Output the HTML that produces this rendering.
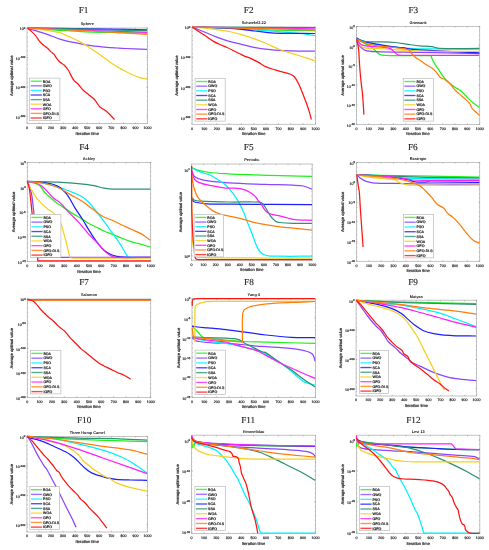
<!DOCTYPE html>
<html><head><meta charset="utf-8"><title>Convergence curves F1-F12</title>
<style>
html,body{margin:0;padding:0;background:#fff;}
body{width:489px;height:550px;overflow:hidden;}
svg{display:block;}
.t{font-family:"Liberation Serif",serif;font-size:9.2px;text-anchor:middle;fill:#1a1a1a;stroke:#1a1a1a;stroke-width:0.12;}
.s{font-family:"Liberation Sans",sans-serif;font-size:3.85px;font-weight:bold;text-anchor:middle;fill:#111;}
.k{font-family:"Liberation Sans",sans-serif;font-size:3.6px;text-anchor:middle;fill:#222;stroke:#333;stroke-width:0.2;stroke-linejoin:round;}
.e{font-size:2.8px;}
.xl{font-family:"Liberation Sans",sans-serif;font-size:4.05px;text-anchor:middle;fill:#222;stroke:#333;stroke-width:0.2;stroke-linejoin:round;}
.yl{font-family:"Liberation Sans",sans-serif;font-size:4.1px;text-anchor:middle;fill:#222;stroke:#333;stroke-width:0.22;stroke-linejoin:round;}
.yk{font-family:"Liberation Sans",sans-serif;font-size:3.6px;text-anchor:end;fill:#222;stroke:#333;stroke-width:0.2;stroke-linejoin:round;}
text{text-rendering:geometricPrecision;}
.lt{font-family:"Liberation Sans",sans-serif;font-size:3.55px;fill:#111;stroke:#222;stroke-width:0.2;stroke-linejoin:round;}
.ax{fill:none;stroke:#b4b4b4;stroke-width:0.8;}
.tk{fill:none;stroke:#8a8a8a;stroke-width:0.5;}
.ln{fill:none;stroke-width:1.25;stroke-linejoin:round;stroke-linecap:butt;}
.lg{fill:#fff;stroke:#b0b0b0;stroke-width:0.6;}
.ll{fill:none;stroke-width:1.35;opacity:0.8;}
</style></head>
<body>
<svg width="489" height="550" viewBox="0 0 489 550">
<rect width="489" height="550" fill="#fff"/>
<g><text x="83.5" y="12.8" class="t">F1</text><text x="87.25" y="25.4" class="s">Sphere</text><rect x="27" y="28" width="120.5" height="95.5" class="ax"/><text x="27" y="128.8" class="k">0</text><text x="39.05" y="128.8" class="k">100</text><text x="51.1" y="128.8" class="k">200</text><text x="63.15" y="128.8" class="k">300</text><text x="75.2" y="128.8" class="k">400</text><text x="87.25" y="128.8" class="k">500</text><text x="99.3" y="128.8" class="k">600</text><text x="111.35" y="128.8" class="k">700</text><text x="123.4" y="128.8" class="k">800</text><text x="135.45" y="128.8" class="k">900</text><text x="147.5" y="128.8" class="k">1000</text><text x="25.4" y="30.45" class="yk">10<tspan dy="-1.7" class="e">0</tspan></text><text x="25.4" y="59.93" class="yk">10<tspan dy="-1.7" class="e">-100</tspan></text><text x="25.4" y="89.4" class="yk">10<tspan dy="-1.7" class="e">-200</tspan></text><text x="25.4" y="118.88" class="yk">10<tspan dy="-1.7" class="e">-300</tspan></text><path d="M27 123.5v-1.2M27 28v1.2M39.05 123.5v-1.2M39.05 28v1.2M51.1 123.5v-1.2M51.1 28v1.2M63.15 123.5v-1.2M63.15 28v1.2M75.2 123.5v-1.2M75.2 28v1.2M87.25 123.5v-1.2M87.25 28v1.2M99.3 123.5v-1.2M99.3 28v1.2M111.35 123.5v-1.2M111.35 28v1.2M123.4 123.5v-1.2M123.4 28v1.2M135.45 123.5v-1.2M135.45 28v1.2M147.5 123.5v-1.2M147.5 28v1.2M27 28h1.2M147.5 28h-1.2M27 57.48h1.2M147.5 57.48h-1.2M27 86.95h1.2M147.5 86.95h-1.2M27 116.43h1.2M147.5 116.43h-1.2M27 32.55h0.8M147.5 32.55h-0.8M27 37.1h0.8M147.5 37.1h-0.8M27 41.64h0.8M147.5 41.64h-0.8M27 46.19h0.8M147.5 46.19h-0.8M27 50.74h0.8M147.5 50.74h-0.8M27 55.29h0.8M147.5 55.29h-0.8M27 59.83h0.8M147.5 59.83h-0.8M27 64.38h0.8M147.5 64.38h-0.8M27 68.93h0.8M147.5 68.93h-0.8M27 73.48h0.8M147.5 73.48h-0.8M27 78.02h0.8M147.5 78.02h-0.8M27 82.57h0.8M147.5 82.57h-0.8M27 87.12h0.8M147.5 87.12h-0.8M27 91.67h0.8M147.5 91.67h-0.8M27 96.21h0.8M147.5 96.21h-0.8M27 100.76h0.8M147.5 100.76h-0.8M27 105.31h0.8M147.5 105.31h-0.8M27 109.86h0.8M147.5 109.86h-0.8M27 114.4h0.8M147.5 114.4h-0.8M27 118.95h0.8M147.5 118.95h-0.8" class="tk"/><text x="87.25" y="134.5" class="xl">Iteration time</text><text transform="translate(12.8 75.75) rotate(-90)" class="yl">Average optimal value</text><path d="M27.5,28C32.8,28.5 38.09,29.14 43.4,29.5C51.29,30.04 59.2,30.28 67.1,30.7C73.5,31.04 79.89,31.58 86.3,31.8C99.19,32.25 112.1,32.4 125,32.7C132.33,32.87 139.67,33.03 147,33.2" stroke="#1ef01e" class="ln"/><path d="M27.5,28C28.17,28.33 28.8,28.75 29.5,29C31.37,29.65 33.3,30.14 35.2,30.7C37.93,31.51 40.69,32.22 43.4,33.1C46.16,33.99 48.88,35 51.6,36C54.41,37.03 57.15,38.29 60,39.2C62.68,40.06 65.45,40.68 68.2,41.3C70.92,41.91 73.67,42.35 76.4,42.9C79.14,43.45 81.85,44.11 84.6,44.6C87.32,45.08 90.06,45.44 92.8,45.8C95.19,46.11 97.6,46.34 100,46.6C102.27,46.84 104.53,47.11 106.8,47.3C110.2,47.58 113.6,47.78 117,48C119.67,48.18 122.33,48.38 125,48.5C132.33,48.82 139.67,49.03 147,49.3" stroke="#8c46ff" class="ln"/><path d="M27.5,28C48.33,28.6 69.16,29.28 90,29.8C109,30.28 128,30.6 147,31" stroke="#00f0ff" class="ln"/><path d="M27.5,28C48.33,28.27 69.17,28.49 90,28.8C109,29.09 128,29.47 147,29.8" stroke="#1e1eff" class="ln"/><path d="M27.5,28C48.33,28.4 69.17,28.76 90,29.2C109,29.6 128,30.07 147,30.5" stroke="#2a9272" class="ln"/><path d="M27.5,28C32.8,28.63 38.11,29.22 43.4,29.9C46.14,30.25 48.88,30.64 51.6,31.1C54.34,31.57 57.13,31.95 59.8,32.7C61.5,33.18 63.06,34.11 64.7,34.8C67.23,35.87 69.81,36.85 72.3,38C75.07,39.28 77.82,40.63 80.5,42.1C83.29,43.63 86.03,45.26 88.7,47C92.53,49.5 96.27,52.15 100,54.8C103.67,57.41 107.19,60.25 110.9,62.8C113.55,64.62 116.32,66.28 119.1,67.9C121.02,69.02 123.03,69.98 125,71C127.46,72.28 129.87,73.69 132.4,74.8C134.87,75.89 137.42,76.82 140,77.6C142.29,78.29 144.67,78.67 147,79.2" stroke="#f5cf1e" class="ln"/><path d="M27.5,28C48.33,28.83 69.16,29.75 90,30.5C109,31.18 128,31.7 147,32.3" stroke="#ff1eff" class="ln"/><path d="M27.5,28C48.33,29 69.17,29.9 90,31C109.01,32 128,33.2 147,34.3" stroke="#ff7d0a" class="ln"/><path d="M27.8,28.2C28.9,29.17 30.04,30.09 31.1,31.1C32.5,32.43 33.96,33.72 35.2,35.2C36.96,37.29 38.35,39.7 40.1,41.8C41.08,42.97 42.25,43.99 43.4,45C44.72,46.16 46.2,47.13 47.5,48.3C48.93,49.59 50.17,51.1 51.6,52.4C52.34,53.07 53.36,53.45 54,54.2C54.99,55.35 55.58,56.86 56.5,58.1C57.51,59.46 58.55,60.86 59.8,62C61.08,63.16 62.85,63.81 64.1,65C65.65,66.47 67.01,68.22 68.2,70C69.21,71.52 69.81,73.3 70.7,74.9C71.78,76.83 72.73,78.9 74.1,80.6C75.23,82 76.95,82.88 78.2,84.2C80.02,86.12 81.43,88.43 83.3,90.3C84.83,91.83 86.71,93.02 88.4,94.4C90.45,96.08 92.72,97.56 94.5,99.5C96.49,101.66 97.64,104.64 99.7,106.7C101.41,108.41 103.96,109.2 105.8,110.8C108.89,113.47 111.6,116.6 114.5,119.5" stroke="#ff1414" class="ln"/><rect x="29.6" y="78.1" width="30.3" height="42.2" class="lg"/><path d="M30.7 81.2h11.2" stroke="#1ef01e" class="ll"/><text x="42.8" y="82.5" class="lt">BOA</text><path d="M30.7 85.8h11.2" stroke="#8c46ff" class="ll"/><text x="42.8" y="87.1" class="lt">GWO</text><path d="M30.7 90.4h11.2" stroke="#00f0ff" class="ll"/><text x="42.8" y="91.7" class="lt">PSO</text><path d="M30.7 95h11.2" stroke="#1e1eff" class="ll"/><text x="42.8" y="96.3" class="lt">SCA</text><path d="M30.7 99.6h11.2" stroke="#2a9272" class="ll"/><text x="42.8" y="100.9" class="lt">SSA</text><path d="M30.7 104.2h11.2" stroke="#f5cf1e" class="ll"/><text x="42.8" y="105.5" class="lt">WOA</text><path d="M30.7 108.8h11.2" stroke="#ff1eff" class="ll"/><text x="42.8" y="110.1" class="lt">GEO</text><path d="M30.7 113.4h11.2" stroke="#ff7d0a" class="ll"/><text x="42.8" y="114.7" class="lt">GEO-DLS</text><path d="M30.7 118h11.2" stroke="#ff1414" class="ll"/><text x="42.8" y="119.3" class="lt">IGEO</text></g>
<g><text x="248.7" y="12.9" class="t">F2</text><text x="253.75" y="24.4" class="s">Schwefel2.22</text><rect x="192" y="27" width="123.5" height="97.3" class="ax"/><text x="192" y="129.6" class="k">0</text><text x="204.35" y="129.6" class="k">100</text><text x="216.7" y="129.6" class="k">200</text><text x="229.05" y="129.6" class="k">300</text><text x="241.4" y="129.6" class="k">400</text><text x="253.75" y="129.6" class="k">500</text><text x="266.1" y="129.6" class="k">600</text><text x="278.45" y="129.6" class="k">700</text><text x="290.8" y="129.6" class="k">800</text><text x="303.15" y="129.6" class="k">900</text><text x="315.5" y="129.6" class="k">1000</text><text x="190.4" y="29.45" class="yk">10<tspan dy="-1.7" class="e">0</tspan></text><text x="190.4" y="59.48" class="yk">10<tspan dy="-1.7" class="e">-100</tspan></text><text x="190.4" y="89.51" class="yk">10<tspan dy="-1.7" class="e">-200</tspan></text><text x="190.4" y="119.54" class="yk">10<tspan dy="-1.7" class="e">-300</tspan></text><path d="M192 124.3v-1.2M192 27v1.2M204.35 124.3v-1.2M204.35 27v1.2M216.7 124.3v-1.2M216.7 27v1.2M229.05 124.3v-1.2M229.05 27v1.2M241.4 124.3v-1.2M241.4 27v1.2M253.75 124.3v-1.2M253.75 27v1.2M266.1 124.3v-1.2M266.1 27v1.2M278.45 124.3v-1.2M278.45 27v1.2M290.8 124.3v-1.2M290.8 27v1.2M303.15 124.3v-1.2M303.15 27v1.2M315.5 124.3v-1.2M315.5 27v1.2M192 27h1.2M315.5 27h-1.2M192 57.03h1.2M315.5 57.03h-1.2M192 87.06h1.2M315.5 87.06h-1.2M192 117.09h1.2M315.5 117.09h-1.2M192 31.42h0.8M315.5 31.42h-0.8M192 35.85h0.8M315.5 35.85h-0.8M192 40.27h0.8M315.5 40.27h-0.8M192 44.69h0.8M315.5 44.69h-0.8M192 49.11h0.8M315.5 49.11h-0.8M192 53.54h0.8M315.5 53.54h-0.8M192 57.96h0.8M315.5 57.96h-0.8M192 62.38h0.8M315.5 62.38h-0.8M192 66.8h0.8M315.5 66.8h-0.8M192 71.23h0.8M315.5 71.23h-0.8M192 75.65h0.8M315.5 75.65h-0.8M192 80.07h0.8M315.5 80.07h-0.8M192 84.5h0.8M315.5 84.5h-0.8M192 88.92h0.8M315.5 88.92h-0.8M192 93.34h0.8M315.5 93.34h-0.8M192 97.76h0.8M315.5 97.76h-0.8M192 102.19h0.8M315.5 102.19h-0.8M192 106.61h0.8M315.5 106.61h-0.8M192 111.03h0.8M315.5 111.03h-0.8M192 115.45h0.8M315.5 115.45h-0.8M192 119.88h0.8M315.5 119.88h-0.8" class="tk"/><text x="253.75" y="135.3" class="xl">Iteration time</text><text transform="translate(177.8 75.65) rotate(-90)" class="yl">Average optimal value</text><path d="M192,27C208,27.53 224,28.01 240,28.6C252,29.04 264,29.78 276,30.1C289,30.45 302,30.43 315,30.6" stroke="#1ef01e" class="ln"/><path d="M192.2,27.2C195.83,28.63 199.47,30.05 203.1,31.5C207.47,33.25 211.79,35.14 216.2,36.8C220.53,38.44 224.87,40.08 229.3,41.4C233.6,42.68 238.03,43.56 242.4,44.6C246.26,45.52 250.1,46.57 254,47.3C258.63,48.17 263.31,48.88 268,49.4C273.15,49.98 278.33,50.32 283.5,50.6C288.69,50.88 293.9,51.02 299.1,51.1C304.4,51.18 309.7,51.1 315,51.1" stroke="#8c46ff" class="ln"/><path d="M192,27C204.67,27.43 217.34,27.74 230,28.3C238.34,28.67 246.67,29.24 255,29.8C262,30.27 269,30.82 276,31.4C284,32.06 292.02,32.66 300,33.5C305.02,34.03 310,34.83 315,35.5" stroke="#00f0ff" class="ln"/><path d="M192,27C204.67,27.43 217.34,27.72 230,28.3C234.01,28.48 238.01,28.87 242,29.3C246.34,29.77 250.66,30.45 255,31C259.33,31.55 263.65,32.2 268,32.6C271.99,32.97 275.99,33.22 280,33.3C291.66,33.52 303.33,33.43 315,33.5" stroke="#1e1eff" class="ln"/><path d="M192,27 315,27.5" stroke="#2a9272" class="ln"/><path d="M192.2,27.2C195.83,27.43 199.48,27.54 203.1,27.9C207.48,28.34 211.84,29 216.2,29.6C220.57,30.2 224.98,30.64 229.3,31.5C233.71,32.38 238.08,33.54 242.4,34.8C246.31,35.94 250.17,37.29 254,38.7C258.04,40.19 262.03,41.84 266,43.5C271.03,45.6 275.89,48.12 281,50C286.76,52.12 292.74,53.64 298.6,55.5C304.08,57.24 309.53,59.03 315,60.8" stroke="#f5cf1e" class="ln"/><path d="M192,27C211.33,27.33 230.67,27.72 250,28C271.67,28.32 293.33,28.53 315,28.8" stroke="#ff1eff" class="ln"/><path d="M192,27C211.33,27.47 230.67,27.96 250,28.4C271.67,28.89 293.33,29.33 315,29.8" stroke="#ff7d0a" class="ln"/><path d="M192.2,27.2C194.1,28.43 196.01,29.65 197.9,30.9C200.51,32.62 203.1,34.36 205.7,36.1C208.34,37.86 210.89,39.77 213.6,41.4C215.26,42.4 217.04,43.2 218.8,44C221.37,45.17 224.03,46.12 226.6,47.3C229.27,48.52 231.87,49.89 234.5,51.2C236.24,52.06 237.96,52.94 239.7,53.8C241.46,54.67 243.19,55.64 245,56.4C246.62,57.08 248.39,57.4 250,58.1C252.76,59.3 255.46,60.66 258.1,62.1C260.86,63.6 263.37,65.59 266.2,66.9C268.77,68.09 271.58,68.76 274.3,69.6C277.41,70.56 280.57,71.39 283.7,72.3C285.97,72.96 288.36,73.37 290.5,74.3C291.96,74.93 293.47,75.81 294.5,77C296.17,78.94 297.43,81.36 298.6,83.7C300.13,86.76 301.33,90.01 302.6,93.2C304.03,96.78 305.4,100.38 306.7,104C307.66,106.68 308.57,109.38 309.4,112.1C310.14,114.54 310.73,117.03 311.4,119.5" stroke="#ff1414" class="ln"/><rect x="195.1" y="78.4" width="30.1" height="42.7" class="lg"/><path d="M196.2 81.5h11.2" stroke="#1ef01e" class="ll"/><text x="208.3" y="82.8" class="lt">BOA</text><path d="M196.2 86.16h11.2" stroke="#8c46ff" class="ll"/><text x="208.3" y="87.46" class="lt">GWO</text><path d="M196.2 90.83h11.2" stroke="#00f0ff" class="ll"/><text x="208.3" y="92.12" class="lt">PSO</text><path d="M196.2 95.49h11.2" stroke="#1e1eff" class="ll"/><text x="208.3" y="96.79" class="lt">SCA</text><path d="M196.2 100.15h11.2" stroke="#2a9272" class="ll"/><text x="208.3" y="101.45" class="lt">SSA</text><path d="M196.2 104.81h11.2" stroke="#f5cf1e" class="ll"/><text x="208.3" y="106.11" class="lt">WOA</text><path d="M196.2 109.47h11.2" stroke="#ff1eff" class="ll"/><text x="208.3" y="110.77" class="lt">GEO</text><path d="M196.2 114.14h11.2" stroke="#ff7d0a" class="ll"/><text x="208.3" y="115.44" class="lt">GEO-DLS</text><path d="M196.2 118.8h11.2" stroke="#ff1414" class="ll"/><text x="208.3" y="120.1" class="lt">IGEO</text></g>
<g><text x="413.3" y="13" class="t">F3</text><text x="418.05" y="23.9" class="s">Griewank</text><rect x="356.4" y="26.5" width="123.3" height="97.9" class="ax"/><text x="356.4" y="129.7" class="k">0</text><text x="368.73" y="129.7" class="k">100</text><text x="381.06" y="129.7" class="k">200</text><text x="393.39" y="129.7" class="k">300</text><text x="405.72" y="129.7" class="k">400</text><text x="418.05" y="129.7" class="k">500</text><text x="430.38" y="129.7" class="k">600</text><text x="442.71" y="129.7" class="k">700</text><text x="455.04" y="129.7" class="k">800</text><text x="467.37" y="129.7" class="k">900</text><text x="479.7" y="129.7" class="k">1000</text><text x="354.8" y="28.95" class="yk">10<tspan dy="-1.7" class="e">5</tspan></text><text x="354.8" y="48.53" class="yk">10<tspan dy="-1.7" class="e">0</tspan></text><text x="354.8" y="68.11" class="yk">10<tspan dy="-1.7" class="e">-5</tspan></text><text x="354.8" y="87.69" class="yk">10<tspan dy="-1.7" class="e">-10</tspan></text><text x="354.8" y="107.27" class="yk">10<tspan dy="-1.7" class="e">-15</tspan></text><text x="354.8" y="126.85" class="yk">10<tspan dy="-1.7" class="e">-20</tspan></text><path d="M356.4 124.4v-1.2M356.4 26.5v1.2M368.73 124.4v-1.2M368.73 26.5v1.2M381.06 124.4v-1.2M381.06 26.5v1.2M393.39 124.4v-1.2M393.39 26.5v1.2M405.72 124.4v-1.2M405.72 26.5v1.2M418.05 124.4v-1.2M418.05 26.5v1.2M430.38 124.4v-1.2M430.38 26.5v1.2M442.71 124.4v-1.2M442.71 26.5v1.2M455.04 124.4v-1.2M455.04 26.5v1.2M467.37 124.4v-1.2M467.37 26.5v1.2M479.7 124.4v-1.2M479.7 26.5v1.2M356.4 26.5h1.2M479.7 26.5h-1.2M356.4 46.08h1.2M479.7 46.08h-1.2M356.4 65.66h1.2M479.7 65.66h-1.2M356.4 85.24h1.2M479.7 85.24h-1.2M356.4 104.82h1.2M479.7 104.82h-1.2M356.4 124.4h1.2M479.7 124.4h-1.2M356.4 30.95h0.8M479.7 30.95h-0.8M356.4 35.4h0.8M479.7 35.4h-0.8M356.4 39.85h0.8M479.7 39.85h-0.8M356.4 44.3h0.8M479.7 44.3h-0.8M356.4 48.75h0.8M479.7 48.75h-0.8M356.4 53.2h0.8M479.7 53.2h-0.8M356.4 57.65h0.8M479.7 57.65h-0.8M356.4 62.1h0.8M479.7 62.1h-0.8M356.4 66.55h0.8M479.7 66.55h-0.8M356.4 71h0.8M479.7 71h-0.8M356.4 75.45h0.8M479.7 75.45h-0.8M356.4 79.9h0.8M479.7 79.9h-0.8M356.4 84.35h0.8M479.7 84.35h-0.8M356.4 88.8h0.8M479.7 88.8h-0.8M356.4 93.25h0.8M479.7 93.25h-0.8M356.4 97.7h0.8M479.7 97.7h-0.8M356.4 102.15h0.8M479.7 102.15h-0.8M356.4 106.6h0.8M479.7 106.6h-0.8M356.4 111.05h0.8M479.7 111.05h-0.8M356.4 115.5h0.8M479.7 115.5h-0.8M356.4 119.95h0.8M479.7 119.95h-0.8" class="tk"/><text x="418.05" y="135.4" class="xl">Iteration time</text><text transform="translate(344 75.45) rotate(-90)" class="yl">Average optimal value</text><path d="M356.6,39.2C358.4,40.13 360.2,41.06 362,42C363.5,42.79 365,43.61 366.5,44.4C368.23,45.31 370.14,45.97 371.7,47.1C373.17,48.17 374.2,49.81 375.6,51C377.27,52.41 378.84,54.42 380.9,54.9C385.41,55.95 390.5,55.53 395.3,55.6C407.2,55.77 419.1,55.6 431,55.6C431.57,57.13 432,58.73 432.7,60.2C433.43,61.73 434.39,63.16 435.3,64.6C436.53,66.56 437.83,68.47 439.1,70.4C440.36,72.31 441.5,74.3 442.9,76.1C444.46,78.1 446.15,80.06 448,81.8C449.98,83.66 452.17,85.34 454.4,86.9C456.4,88.3 458.75,89.24 460.7,90.7C462.12,91.77 463.23,93.23 464.5,94.5C466.2,96.2 467.85,97.95 469.6,99.6C471.25,101.15 472.93,102.69 474.7,104.1C476.16,105.26 477.77,106.23 479.3,107.3" stroke="#1ef01e" class="ln"/><path d="M356.6,41.2C357.7,42.93 358.51,44.93 359.9,46.4C361.38,47.97 363.18,49.63 365.2,50.3C368.41,51.36 372.11,51.47 375.6,51.6C390.38,52.14 405.2,52.01 420,52.3C439.77,52.68 459.53,53.17 479.3,53.6" stroke="#8c46ff" class="ln"/><path d="M356.6,39C362.93,40.83 369.15,43.24 375.6,44.5C383.62,46.07 391.85,46.71 400,47.5C406.65,48.14 413.33,48.56 420,48.8C427.39,49.06 434.8,48.98 442.2,49C454.57,49.04 466.93,49 479.3,49" stroke="#00f0ff" class="ln"/><path d="M356.6,37.9C358.57,39 360.37,40.54 362.5,41.2C366.7,42.51 371.22,42.98 375.6,43.8C379.96,44.61 384.32,45.45 388.7,46.1C393.05,46.75 397.44,47.12 401.8,47.7C406.54,48.32 411.25,49.25 416,49.7C420.31,50.11 424.67,50.08 429,50.3C445.77,51.15 462.53,52.03 479.3,52.9" stroke="#1e1eff" class="ln"/><path d="M356.6,38.5C359.03,39.47 361.36,40.96 363.9,41.4C367.69,42.06 371.7,41.66 375.6,41.8C382.17,42.03 388.76,41.98 395.3,42.5C399.69,42.85 404.03,43.8 408.4,44.4C412.26,44.93 416.12,45.52 420,45.9C423.89,46.28 427.83,46.21 431.7,46.7C434.37,47.04 436.92,48.3 439.6,48.4C452.78,48.87 466.07,48.4 479.3,48.4" stroke="#2a9272" class="ln"/><path d="M356.6,40C358.57,42.37 359.89,45.95 362.5,47.1C366.22,48.75 371.23,48.05 375.6,48.4C382.16,48.92 388.73,49.32 395.3,49.7C403.53,50.18 411.76,50.83 420,51C439.76,51.4 459.53,51.27 479.3,51.4" stroke="#f5cf1e" class="ln"/><path d="M356.6,39.9C358.57,41.63 360.07,44.42 362.5,45.1C368.61,46.82 375.65,46.31 382.2,47.1C384.82,47.41 387.61,47.49 390,48.4C391.55,48.99 392.68,50.52 394,51.6C395.31,52.68 396.45,54.13 397.9,54.9C398.79,55.37 399.96,55.29 401,55.3C427.09,55.43 453.2,55.3 479.3,55.3" stroke="#ff1eff" class="ln"/><path d="M356.6,39.2C360.77,40.93 364.79,43.19 369.1,44.4C373.32,45.59 377.82,45.85 382.2,46.4C386.55,46.95 390.95,47.15 395.3,47.7C399.68,48.25 404.51,48.19 408.4,49.7C410.17,50.39 410.93,52.84 412.3,54.3C413.53,55.6 414.79,56.92 416.2,58C417.35,58.88 418.79,59.38 420,60.2C421.76,61.38 423.33,62.83 425.1,64C427.17,65.37 429.5,66.35 431.5,67.8C433.3,69.11 434.98,70.66 436.5,72.3C437.95,73.86 438.81,76.05 440.4,77.4C441.78,78.58 443.88,78.85 445.4,79.9C447.25,81.18 448.95,82.76 450.5,84.4C451.95,85.93 452.96,87.86 454.4,89.4C455.93,91.03 457.72,92.42 459.4,93.9C461.08,95.38 462.86,96.77 464.5,98.3C466.26,99.94 468.17,101.5 469.6,103.4C470.74,104.9 471.1,106.97 472.2,108.5C473.23,109.94 474.71,111.06 476,112.3C477.07,113.33 478.2,114.3 479.3,115.3" stroke="#ff7d0a" class="ln"/><path d="M356.6,39.2C357.27,42.47 358.21,45.7 358.6,49C359.18,53.96 359.14,59 359.5,64C359.87,69.17 360.29,74.34 360.8,79.5C361.32,84.71 362.14,89.89 362.6,95.1C363.17,101.59 363.47,108.1 363.9,114.6" stroke="#ff1414" class="ln"/><rect x="403.2" y="78.4" width="30.2" height="42.7" class="lg"/><path d="M404.3 81.5h11.2" stroke="#1ef01e" class="ll"/><text x="416.4" y="82.8" class="lt">BOA</text><path d="M404.3 86.16h11.2" stroke="#8c46ff" class="ll"/><text x="416.4" y="87.46" class="lt">GWO</text><path d="M404.3 90.83h11.2" stroke="#00f0ff" class="ll"/><text x="416.4" y="92.12" class="lt">PSO</text><path d="M404.3 95.49h11.2" stroke="#1e1eff" class="ll"/><text x="416.4" y="96.79" class="lt">SCA</text><path d="M404.3 100.15h11.2" stroke="#2a9272" class="ll"/><text x="416.4" y="101.45" class="lt">SSA</text><path d="M404.3 104.81h11.2" stroke="#f5cf1e" class="ll"/><text x="416.4" y="106.11" class="lt">WOA</text><path d="M404.3 109.47h11.2" stroke="#ff1eff" class="ll"/><text x="416.4" y="110.77" class="lt">GEO</text><path d="M404.3 114.14h11.2" stroke="#ff7d0a" class="ll"/><text x="416.4" y="115.44" class="lt">GEO-DLS</text><path d="M404.3 118.8h11.2" stroke="#ff1414" class="ll"/><text x="416.4" y="120.1" class="lt">IGEO</text></g>
<g><text x="84" y="150.1" class="t">F4</text><text x="89" y="159.9" class="s">Ackley</text><rect x="27.3" y="162.5" width="123.4" height="99" class="ax"/><text x="27.3" y="266.8" class="k">0</text><text x="39.64" y="266.8" class="k">100</text><text x="51.98" y="266.8" class="k">200</text><text x="64.32" y="266.8" class="k">300</text><text x="76.66" y="266.8" class="k">400</text><text x="89" y="266.8" class="k">500</text><text x="101.34" y="266.8" class="k">600</text><text x="113.68" y="266.8" class="k">700</text><text x="126.02" y="266.8" class="k">800</text><text x="138.36" y="266.8" class="k">900</text><text x="150.7" y="266.8" class="k">1000</text><text x="25.7" y="164.95" class="yk">10<tspan dy="-1.7" class="e">5</tspan></text><text x="25.7" y="189.7" class="yk">10<tspan dy="-1.7" class="e">0</tspan></text><text x="25.7" y="214.45" class="yk">10<tspan dy="-1.7" class="e">-5</tspan></text><text x="25.7" y="239.2" class="yk">10<tspan dy="-1.7" class="e">-10</tspan></text><text x="25.7" y="263.95" class="yk">10<tspan dy="-1.7" class="e">-15</tspan></text><path d="M27.3 261.5v-1.2M27.3 162.5v1.2M39.64 261.5v-1.2M39.64 162.5v1.2M51.98 261.5v-1.2M51.98 162.5v1.2M64.32 261.5v-1.2M64.32 162.5v1.2M76.66 261.5v-1.2M76.66 162.5v1.2M89 261.5v-1.2M89 162.5v1.2M101.34 261.5v-1.2M101.34 162.5v1.2M113.68 261.5v-1.2M113.68 162.5v1.2M126.02 261.5v-1.2M126.02 162.5v1.2M138.36 261.5v-1.2M138.36 162.5v1.2M150.7 261.5v-1.2M150.7 162.5v1.2M27.3 162.5h1.2M150.7 162.5h-1.2M27.3 187.25h1.2M150.7 187.25h-1.2M27.3 212h1.2M150.7 212h-1.2M27.3 236.75h1.2M150.7 236.75h-1.2M27.3 261.5h1.2M150.7 261.5h-1.2M27.3 167h0.8M150.7 167h-0.8M27.3 171.5h0.8M150.7 171.5h-0.8M27.3 176h0.8M150.7 176h-0.8M27.3 180.5h0.8M150.7 180.5h-0.8M27.3 185h0.8M150.7 185h-0.8M27.3 189.5h0.8M150.7 189.5h-0.8M27.3 194h0.8M150.7 194h-0.8M27.3 198.5h0.8M150.7 198.5h-0.8M27.3 203h0.8M150.7 203h-0.8M27.3 207.5h0.8M150.7 207.5h-0.8M27.3 212h0.8M150.7 212h-0.8M27.3 216.5h0.8M150.7 216.5h-0.8M27.3 221h0.8M150.7 221h-0.8M27.3 225.5h0.8M150.7 225.5h-0.8M27.3 230h0.8M150.7 230h-0.8M27.3 234.5h0.8M150.7 234.5h-0.8M27.3 239h0.8M150.7 239h-0.8M27.3 243.5h0.8M150.7 243.5h-0.8M27.3 248h0.8M150.7 248h-0.8M27.3 252.5h0.8M150.7 252.5h-0.8M27.3 257h0.8M150.7 257h-0.8" class="tk"/><text x="89" y="272.5" class="xl">Iteration time</text><text transform="translate(14.9 212) rotate(-90)" class="yl">Average optimal value</text><path d="M27.3,181.4C29.53,181.93 31.86,182.22 34,183C36.22,183.82 38.63,184.72 40.4,186.2C41.83,187.39 42.37,189.53 43.6,191C45.04,192.73 46.74,194.26 48.4,195.8C50.48,197.73 52.57,199.66 54.8,201.4C57.37,203.4 60.11,205.17 62.8,207C65.98,209.17 69.14,211.36 72.4,213.4C75.54,215.36 78.85,217.06 82,219C84.05,220.26 85.92,221.81 88,223C90.58,224.48 93.33,225.67 96,227C98.67,228.33 101.28,229.78 104,231C106.62,232.18 109.33,233.13 112,234.2C114.67,235.27 117.33,236.33 120,237.4C122.67,238.47 125.29,239.65 128,240.6C130.63,241.52 133.32,242.24 136,243C140.79,244.37 145.6,245.67 150.4,247" stroke="#1ef01e" class="ln"/><path d="M27.3,181.4C27.93,183 28.65,184.57 29.2,186.2C30.09,188.84 31.08,191.48 31.6,194.2C32.41,198.41 32.69,202.73 33.2,207C33.49,209.4 33.83,211.79 34,214.2C34.6,222.79 34.9,231.41 35.5,240C35.9,245.81 35.72,252.45 37,257.4C37.22,258.25 39,257.4 40,257.4C76.8,257.4 113.6,257.4 150.4,257.4" stroke="#8c46ff" class="ln"/><path d="M27.3,181.4C32.2,181.93 37.16,182.12 42,183C47.4,183.98 52.73,185.45 58,187C61.8,188.12 65.51,189.55 69.2,191C72.98,192.48 76.88,193.83 80.4,195.8C83.15,197.33 85.75,199.3 88,201.5C90.95,204.37 93.41,207.77 96,211C98.74,214.41 101.4,217.89 104,221.4C106.73,225.09 109.33,228.87 112,232.6C114.67,236.33 117.46,239.99 120,243.8C121.72,246.39 123.18,249.15 124.8,251.8C125.85,253.51 126.63,255.66 128,256.9C128.69,257.53 129.99,257.38 131,257.4C137.45,257.54 143.93,257.4 150.4,257.4" stroke="#00f0ff" class="ln"/><path d="M27.3,181.4C32.2,181.67 37.13,181.69 42,182.2C45.36,182.55 48.72,183.21 52,184C53.72,184.41 55.38,185.09 57,185.8C58.05,186.26 59.15,186.74 60,187.5C62.65,189.84 65.42,192.25 67.5,195.1C70.45,199.15 72.44,203.91 75.1,208.2C77.48,212.04 80.18,215.68 82.6,219.5C84.55,222.58 86.3,225.79 88.2,228.9C89.74,231.42 91.26,233.95 92.9,236.4C94.4,238.65 95.91,240.9 97.6,243C99.61,245.5 101.61,248.11 104,250.2C105.87,251.84 108.15,253.13 110.4,254.2C112.41,255.16 114.61,255.86 116.8,256.3C119.41,256.83 122.12,257.01 124.8,257.1C133.32,257.38 141.87,257.3 150.4,257.4" stroke="#1e1eff" class="ln"/><path d="M27.3,181.4C37.53,181.67 47.78,181.66 58,182.2C68.01,182.73 78.03,183.55 88,184.6C90.7,184.88 93.34,185.62 96,186.2C98.68,186.79 101.3,187.66 104,188.1C107.17,188.62 110.39,189.03 113.6,189.1C125.85,189.36 138.13,189.1 150.4,189.1" stroke="#2a9272" class="ln"/><path d="M27.3,181.4C28.2,183.53 28.93,185.76 30,187.8C30.89,189.49 32.17,190.98 33.2,192.6C34.03,193.91 34.71,195.33 35.6,196.6C36.58,198 37.65,199.34 38.8,200.6C40.32,202.27 41.93,203.87 43.6,205.4C45.13,206.81 46.74,208.15 48.4,209.4C49.94,210.55 51.8,211.31 53.2,212.6C55,214.25 56.65,216.17 58,218.2C59.31,220.17 60.37,222.38 61.2,224.6C62.37,227.71 63.1,230.99 64,234.2C64.9,237.39 65.8,240.58 66.6,243.8C67.4,246.98 68.02,250.21 68.8,253.4C69.08,254.55 69.26,255.81 69.8,256.8C70.09,257.34 70.67,257.96 71.3,258C77.41,258.39 83.77,258.09 90,258.1C110.13,258.13 130.27,258.1 150.4,258.1" stroke="#f5cf1e" class="ln"/><path d="M27.3,181.4C30.07,181.93 32.95,182.13 35.6,183C37.85,183.73 40.12,184.79 42,186.2C44.38,187.99 46.29,190.44 48.4,192.6C50.29,194.54 51.96,196.74 54,198.5C55.82,200.07 58.24,200.96 60,202.6C63.37,205.76 66.19,209.54 69.4,212.9C72.46,216.1 75.82,219.02 78.8,222.3C82.09,225.92 84.91,229.98 88.2,233.6C91.18,236.88 94.56,239.78 97.6,243C99.59,245.11 101.31,247.49 103.3,249.6C104.51,250.89 105.81,252.11 107.2,253.2C108.71,254.38 110.29,255.58 112,256.4C113.22,256.98 114.63,257.36 116,257.4C127.43,257.7 138.93,257.4 150.4,257.4" stroke="#ff1eff" class="ln"/><path d="M27.3,181.4C32.2,181.93 37.15,182.19 42,183C45.38,183.56 48.72,184.5 52,185.5C54.72,186.33 57.46,187.24 60,188.5C63.89,190.44 67.53,192.91 71.3,195.1C75.06,197.28 78.99,199.2 82.6,201.6C86.52,204.2 90.09,207.32 93.9,210.1C96.99,212.36 99.97,214.86 103.3,216.7C106.24,218.33 109.61,219.13 112.7,220.5C115.25,221.63 117.68,223.02 120.2,224.2C123.94,225.95 127.74,227.59 131.5,229.3C134.64,230.72 137.87,231.99 140.9,233.6C142.57,234.49 144.04,235.72 145.6,236.8C147.21,237.92 148.8,239.07 150.4,240.2" stroke="#ff7d0a" class="ln"/><path d="M27.3,181.4C27.93,183.53 28.8,185.62 29.2,187.8C29.97,192.02 30.32,196.33 30.8,200.6C31.28,204.86 31.7,209.13 32.1,213.4C32.93,222.26 33.54,231.15 34.5,240C35.01,244.69 35.7,249.36 36.5,254C36.73,255.36 37.36,256.65 37.6,258C37.76,258.91 37.67,259.87 37.7,260.8 L37.7,260.8 150.4,260.8" stroke="#ff1414" class="ln"/><rect x="30.3" y="214.3" width="30.6" height="43.1" class="lg"/><path d="M31.4 217.4h11.2" stroke="#1ef01e" class="ll"/><text x="43.5" y="218.7" class="lt">BOA</text><path d="M31.4 222.11h11.2" stroke="#8c46ff" class="ll"/><text x="43.5" y="223.41" class="lt">GWO</text><path d="M31.4 226.82h11.2" stroke="#00f0ff" class="ll"/><text x="43.5" y="228.12" class="lt">PSO</text><path d="M31.4 231.54h11.2" stroke="#1e1eff" class="ll"/><text x="43.5" y="232.84" class="lt">SCA</text><path d="M31.4 236.25h11.2" stroke="#2a9272" class="ll"/><text x="43.5" y="237.55" class="lt">SSA</text><path d="M31.4 240.96h11.2" stroke="#f5cf1e" class="ll"/><text x="43.5" y="242.26" class="lt">WOA</text><path d="M31.4 245.67h11.2" stroke="#ff1eff" class="ll"/><text x="43.5" y="246.97" class="lt">GEO</text><path d="M31.4 250.39h11.2" stroke="#ff7d0a" class="ll"/><text x="43.5" y="251.69" class="lt">GEO-DLS</text><path d="M31.4 255.1h11.2" stroke="#ff1414" class="ll"/><text x="43.5" y="256.4" class="lt">IGEO</text></g>
<g><text x="248.7" y="150.3" class="t">F5</text><text x="251.85" y="161.4" class="s">Periodic</text><rect x="191.5" y="164" width="120.7" height="96.3" class="ax"/><text x="191.5" y="265.6" class="k">0</text><text x="203.57" y="265.6" class="k">100</text><text x="215.64" y="265.6" class="k">200</text><text x="227.71" y="265.6" class="k">300</text><text x="239.78" y="265.6" class="k">400</text><text x="251.85" y="265.6" class="k">500</text><text x="263.92" y="265.6" class="k">600</text><text x="275.99" y="265.6" class="k">700</text><text x="288.06" y="265.6" class="k">800</text><text x="300.13" y="265.6" class="k">900</text><text x="312.2" y="265.6" class="k">1000</text><text x="189.9" y="172.06" class="yk">10<tspan dy="-1.7" class="e">1</tspan></text><text x="189.9" y="258.43" class="yk">10<tspan dy="-1.7" class="e">0</tspan></text><path d="M191.5 260.3v-1.2M191.5 164v1.2M203.57 260.3v-1.2M203.57 164v1.2M215.64 260.3v-1.2M215.64 164v1.2M227.71 260.3v-1.2M227.71 164v1.2M239.78 260.3v-1.2M239.78 164v1.2M251.85 260.3v-1.2M251.85 164v1.2M263.92 260.3v-1.2M263.92 164v1.2M275.99 260.3v-1.2M275.99 164v1.2M288.06 260.3v-1.2M288.06 164v1.2M300.13 260.3v-1.2M300.13 164v1.2M312.2 260.3v-1.2M312.2 164v1.2M191.5 169.61h1.2M312.2 169.61h-1.2M191.5 255.98h1.2M312.2 255.98h-1.2M191.5 168.59h0.8M312.2 168.59h-0.8M191.5 173.17h0.8M312.2 173.17h-0.8M191.5 177.76h0.8M312.2 177.76h-0.8M191.5 182.34h0.8M312.2 182.34h-0.8M191.5 186.93h0.8M312.2 186.93h-0.8M191.5 191.51h0.8M312.2 191.51h-0.8M191.5 196.1h0.8M312.2 196.1h-0.8M191.5 200.69h0.8M312.2 200.69h-0.8M191.5 205.27h0.8M312.2 205.27h-0.8M191.5 209.86h0.8M312.2 209.86h-0.8M191.5 214.44h0.8M312.2 214.44h-0.8M191.5 219.03h0.8M312.2 219.03h-0.8M191.5 223.61h0.8M312.2 223.61h-0.8M191.5 228.2h0.8M312.2 228.2h-0.8M191.5 232.79h0.8M312.2 232.79h-0.8M191.5 237.37h0.8M312.2 237.37h-0.8M191.5 241.96h0.8M312.2 241.96h-0.8M191.5 246.54h0.8M312.2 246.54h-0.8M191.5 251.13h0.8M312.2 251.13h-0.8M191.5 255.71h0.8M312.2 255.71h-0.8" class="tk"/><text x="251.85" y="271.3" class="xl">Iteration time</text><text transform="translate(181.7 212.15) rotate(-90)" class="yl">Average optimal value</text><path d="M191.6,167.3C193.33,168.17 194.95,169.37 196.8,169.9C201.02,171.1 205.42,171.95 209.8,172.5C215.82,173.25 221.93,173.48 228,173.8C236.63,174.25 245.27,174.5 253.9,174.8C262.57,175.1 271.23,175.36 279.9,175.6C290.6,175.89 301.3,176.13 312,176.4" stroke="#1ef01e" class="ln"/><path d="M191.7,171C192.63,172.83 192.97,175.31 194.5,176.5C196.91,178.38 200.34,179.61 203.5,180.2C211.84,181.75 220.48,182.32 229,182.9C240.98,183.72 253,183.97 265,184.4C274.3,184.73 283.61,184.81 292.9,185.2C296.37,185.35 299.92,185.31 303.3,186C306.29,186.61 309.1,188.07 312,189.1" stroke="#8c46ff" class="ln"/><path d="M191.6,167.8C194.2,169.1 196.71,170.63 199.4,171.7C202.77,173.03 206.48,173.58 209.8,175C212.54,176.18 215.05,177.92 217.6,179.5C220.25,181.15 223.12,182.61 225.4,184.7C228.32,187.37 230.77,190.64 233.2,193.8C235.1,196.27 236.86,198.89 238.4,201.6C240.3,204.95 241.96,208.46 243.5,212C244.96,215.36 246.06,218.88 247.4,222.3C249.1,226.65 250.91,230.95 252.6,235.3C253.94,238.75 254.95,242.35 256.5,245.7C257.55,247.99 258.64,250.52 260.4,252.2C262.1,253.82 264.56,255.12 266.9,255.6C271.06,256.45 275.56,256.14 279.9,256.2C290.6,256.34 301.3,256.2 312,256.2" stroke="#00f0ff" class="ln"/><path d="M191.7,199.3C192.63,200.2 193.3,201.65 194.5,202C198.46,203.15 202.94,203.53 207.2,203.8C214.44,204.26 221.73,204.14 229,204.2C256.67,204.41 284.33,204.47 312,204.6" stroke="#1e1eff" class="ln"/><path d="M191.7,197.5C192.63,198.4 193.36,199.7 194.5,200.2C196.1,200.9 198.08,201.01 199.9,201.1C209.58,201.61 219.3,201.84 229,202C237.66,202.14 246.34,201.84 255,202C257.04,202.04 259.36,201.8 261.1,202.6C262.63,203.3 263.75,205.06 264.8,206.5C266.08,208.26 266.94,210.34 268.1,212.2C269.14,213.87 270.16,215.59 271.4,217.1C272.62,218.59 273.93,220.17 275.5,221.2C276.66,221.97 278.18,222.35 279.6,222.5C284.68,223.05 289.86,223.16 295,223.3C300.66,223.46 306.33,223.37 312,223.4" stroke="#2a9272" class="ln"/><path d="M191.6,164.5C191.63,176.33 191.57,188.17 191.7,200C191.84,213.33 191.77,226.7 192.4,240C192.57,243.7 193.37,247.37 194.1,251C194.41,252.54 194.71,254.24 195.5,255.5C196.01,256.31 197.02,257.08 198,257.2C203.52,257.85 209.33,257.76 215,257.8C247.33,258.06 279.67,258 312,258.1" stroke="#f5cf1e" class="ln"/><path d="M191.6,170.2C192.57,173.23 192.85,176.78 194.5,179.3C195.62,181.01 197.91,182.13 199.9,182.9C203.34,184.23 207.14,184.84 210.8,185.6C215.5,186.57 220.24,187.57 225,188.1C227.71,188.4 230.47,187.97 233.2,188.1C235.94,188.23 238.71,188.44 241.4,188.9C242.81,189.14 244.17,189.67 245.5,190.2C246.91,190.77 248.3,191.42 249.6,192.2C251.03,193.06 252.41,194.05 253.7,195.1C254.57,195.81 255.39,196.62 256.1,197.5C257.03,198.66 257.71,200.01 258.6,201.2C259.54,202.45 260.69,203.54 261.6,204.8C262.75,206.4 263.58,208.26 264.8,209.8C265.75,210.99 266.82,212.23 268.1,213C269.55,213.87 271.33,214.28 273,214.7C275.16,215.25 277.42,215.41 279.6,215.9C282.35,216.51 285.06,217.34 287.8,218C290.19,218.57 292.56,219.37 295,219.6C300.63,220.13 306.33,220.07 312,220.3" stroke="#ff1eff" class="ln"/><path d="M191.6,174.5C191.93,176.67 192.2,178.84 192.6,181C193.07,183.54 193.39,186.15 194.2,188.6C195.23,191.72 196.3,195 198.1,197.7C199.77,200.2 202.33,202.15 204.6,204.2C207.09,206.45 209.58,208.83 212.4,210.6C214.78,212.09 217.52,213.11 220.2,214C222.72,214.84 225.39,215.22 228,215.8C232.33,216.76 236.7,217.52 241,218.6C245.34,219.69 249.56,221.24 253.9,222.3C258.19,223.34 262.55,224.15 266.9,224.9C271.21,225.65 275.55,226.28 279.9,226.8C285.95,227.52 292.04,227.98 298.1,228.6C302.74,229.08 307.37,229.6 312,230.1" stroke="#ff7d0a" class="ln"/><path d="M191.6,166C191.67,181.33 191.47,196.67 191.8,212C192,221.34 192.52,230.69 193.2,240C193.42,243.02 194.16,245.99 194.5,249C194.82,251.82 194.62,254.81 195.2,257.5C195.36,258.24 196.06,258.96 196.7,259.3C197.33,259.63 198.23,259.5 199,259.5C236.66,259.57 274.33,259.5 312,259.5" stroke="#ff1414" class="ln"/><rect x="194.1" y="214.3" width="29.5" height="42.6" class="lg"/><path d="M195.2 217.4h11.2" stroke="#1ef01e" class="ll"/><text x="207.3" y="218.7" class="lt">BOA</text><path d="M195.2 222.05h11.2" stroke="#8c46ff" class="ll"/><text x="207.3" y="223.35" class="lt">GWO</text><path d="M195.2 226.7h11.2" stroke="#00f0ff" class="ll"/><text x="207.3" y="228" class="lt">PSO</text><path d="M195.2 231.35h11.2" stroke="#1e1eff" class="ll"/><text x="207.3" y="232.65" class="lt">SCA</text><path d="M195.2 236h11.2" stroke="#2a9272" class="ll"/><text x="207.3" y="237.3" class="lt">SSA</text><path d="M195.2 240.65h11.2" stroke="#f5cf1e" class="ll"/><text x="207.3" y="241.95" class="lt">WOA</text><path d="M195.2 245.3h11.2" stroke="#ff1eff" class="ll"/><text x="207.3" y="246.6" class="lt">GEO</text><path d="M195.2 249.95h11.2" stroke="#ff7d0a" class="ll"/><text x="207.3" y="251.25" class="lt">GEO-DLS</text><path d="M195.2 254.6h11.2" stroke="#ff1414" class="ll"/><text x="207.3" y="255.9" class="lt">IGEO</text></g>
<g><text x="412.8" y="150.1" class="t">F6</text><text x="418.15" y="159.9" class="s">Rastrigin</text><rect x="356.6" y="162.5" width="123.1" height="98.8" class="ax"/><text x="356.6" y="266.6" class="k">0</text><text x="368.91" y="266.6" class="k">100</text><text x="381.22" y="266.6" class="k">200</text><text x="393.53" y="266.6" class="k">300</text><text x="405.84" y="266.6" class="k">400</text><text x="418.15" y="266.6" class="k">500</text><text x="430.46" y="266.6" class="k">600</text><text x="442.77" y="266.6" class="k">700</text><text x="455.08" y="266.6" class="k">800</text><text x="467.39" y="266.6" class="k">900</text><text x="479.7" y="266.6" class="k">1000</text><text x="355" y="164.95" class="yk">10<tspan dy="-1.7" class="e">5</tspan></text><text x="355" y="184.71" class="yk">10<tspan dy="-1.7" class="e">0</tspan></text><text x="355" y="204.47" class="yk">10<tspan dy="-1.7" class="e">-5</tspan></text><text x="355" y="224.23" class="yk">10<tspan dy="-1.7" class="e">-10</tspan></text><text x="355" y="243.99" class="yk">10<tspan dy="-1.7" class="e">-15</tspan></text><text x="355" y="263.75" class="yk">10<tspan dy="-1.7" class="e">-20</tspan></text><path d="M356.6 261.3v-1.2M356.6 162.5v1.2M368.91 261.3v-1.2M368.91 162.5v1.2M381.22 261.3v-1.2M381.22 162.5v1.2M393.53 261.3v-1.2M393.53 162.5v1.2M405.84 261.3v-1.2M405.84 162.5v1.2M418.15 261.3v-1.2M418.15 162.5v1.2M430.46 261.3v-1.2M430.46 162.5v1.2M442.77 261.3v-1.2M442.77 162.5v1.2M455.08 261.3v-1.2M455.08 162.5v1.2M467.39 261.3v-1.2M467.39 162.5v1.2M479.7 261.3v-1.2M479.7 162.5v1.2M356.6 162.5h1.2M479.7 162.5h-1.2M356.6 182.26h1.2M479.7 182.26h-1.2M356.6 202.02h1.2M479.7 202.02h-1.2M356.6 221.78h1.2M479.7 221.78h-1.2M356.6 241.54h1.2M479.7 241.54h-1.2M356.6 261.3h1.2M479.7 261.3h-1.2M356.6 166.99h0.8M479.7 166.99h-0.8M356.6 171.48h0.8M479.7 171.48h-0.8M356.6 175.97h0.8M479.7 175.97h-0.8M356.6 180.46h0.8M479.7 180.46h-0.8M356.6 184.95h0.8M479.7 184.95h-0.8M356.6 189.45h0.8M479.7 189.45h-0.8M356.6 193.94h0.8M479.7 193.94h-0.8M356.6 198.43h0.8M479.7 198.43h-0.8M356.6 202.92h0.8M479.7 202.92h-0.8M356.6 207.41h0.8M479.7 207.41h-0.8M356.6 211.9h0.8M479.7 211.9h-0.8M356.6 216.39h0.8M479.7 216.39h-0.8M356.6 220.88h0.8M479.7 220.88h-0.8M356.6 225.37h0.8M479.7 225.37h-0.8M356.6 229.86h0.8M479.7 229.86h-0.8M356.6 234.35h0.8M479.7 234.35h-0.8M356.6 238.85h0.8M479.7 238.85h-0.8M356.6 243.34h0.8M479.7 243.34h-0.8M356.6 247.83h0.8M479.7 247.83h-0.8M356.6 252.32h0.8M479.7 252.32h-0.8M356.6 256.81h0.8M479.7 256.81h-0.8" class="tk"/><text x="418.15" y="272.3" class="xl">Iteration time</text><text transform="translate(344.2 211.9) rotate(-90)" class="yl">Average optimal value</text><path d="M356.8,174.8C364.53,175 372.27,175.26 380,175.4C392,175.62 404,175.68 416,175.9C437.1,176.28 458.2,176.77 479.3,177.2" stroke="#1ef01e" class="ln"/><path d="M356.8,174.8C356.97,174.93 357.15,175.05 357.3,175.2C358.18,176.05 358.94,177.05 359.9,177.8C361.14,178.78 362.47,179.73 363.9,180.4C365.54,181.17 367.33,181.69 369.1,182.1C371.23,182.59 373.41,182.99 375.6,183.1C382.15,183.42 388.73,183.28 395.3,183.4C403.53,183.55 411.77,183.82 420,183.9C439.77,184.09 459.53,184.1 479.3,184.2" stroke="#8c46ff" class="ln"/><path d="M356.8,174.8C367.87,175.27 378.96,175.43 390,176.2C393.36,176.43 396.64,177.59 400,177.8C409.97,178.42 420,178.54 430,178.7C446.43,178.97 462.87,178.97 479.3,179.1" stroke="#00f0ff" class="ln"/><path d="M356.8,174.8C364.53,175.2 372.28,175.44 380,176C385.11,176.37 390.2,177.06 395.3,177.6C396.87,177.76 398.45,177.83 400,178.1C403.08,178.63 406.16,179.26 409.2,180C411.26,180.5 413.21,181.6 415.3,181.8C420.14,182.27 425.1,181.95 430,182C446.43,182.15 462.87,182.27 479.3,182.4" stroke="#1e1eff" class="ln"/><path d="M356.8,174.8C371.2,175.33 385.6,175.91 400,176.4C410,176.74 420,177.12 430,177.3C446.43,177.59 462.87,177.63 479.3,177.8" stroke="#2a9272" class="ln"/><path d="M356.8,174.8C360.9,175.6 364.97,176.6 369.1,177.2C373.44,177.83 377.83,178.07 382.2,178.5C386.57,178.93 391.1,178.94 395.3,179.8C396.33,180.01 396.99,181.14 397.9,181.7C398.72,182.21 399.59,182.68 400.5,183C402.32,183.64 404.2,184.25 406.1,184.6C408.13,184.98 410.22,185.18 412.3,185.2C434.62,185.38 456.97,185.2 479.3,185.2" stroke="#f5cf1e" class="ln"/><path d="M356.8,174.8C367.87,175.37 378.95,175.73 390,176.5C393.35,176.73 396.68,177.28 400,177.8C404.11,178.45 408.16,179.66 412.3,180C418.16,180.49 424.1,180.26 430,180.3C446.43,180.4 462.87,180.37 479.3,180.4" stroke="#ff1eff" class="ln"/><path d="M356.8,174.8C365.27,175.6 373.74,176.36 382.2,177.2C386.57,177.63 390.94,178.06 395.3,178.6C396.88,178.79 398.44,179.11 400,179.4C402.04,179.78 404.1,180.06 406.1,180.6C408.2,181.16 410.24,181.97 412.3,182.7C413.74,183.21 415.2,183.7 416.6,184.3C417.83,184.83 419.08,185.38 420.2,186.1C421.31,186.81 422.32,187.71 423.3,188.6C424.49,189.68 425.6,190.84 426.7,192C428.47,193.87 430.23,195.74 431.9,197.7C433.7,199.81 435.05,202.4 437.1,204.2C438.95,205.83 441.74,206.39 443.6,208C445.21,209.39 445.98,211.68 447.5,213.2C449.02,214.72 451.07,215.68 452.7,217.1C454.54,218.71 456.27,220.47 457.9,222.3C459.74,224.37 461.37,226.63 463.1,228.8C464.83,230.97 466.46,233.23 468.3,235.3C469.93,237.13 471.53,239.11 473.5,240.5C475.2,241.71 477.37,242.23 479.3,243.1" stroke="#ff7d0a" class="ln"/><path d="M356.8,174.8C357.3,178.53 357.76,182.27 358.3,186C358.59,188.01 359.12,189.98 359.3,192C359.86,198.32 360.07,204.67 360.5,211C360.91,217 361.37,223 361.8,229C362.23,235 362.67,241 363.1,247" stroke="#ff1414" class="ln"/><rect x="403.4" y="214.3" width="30.2" height="43.6" class="lg"/><path d="M404.5 217.4h11.2" stroke="#1ef01e" class="ll"/><text x="416.6" y="218.7" class="lt">BOA</text><path d="M404.5 222.18h11.2" stroke="#8c46ff" class="ll"/><text x="416.6" y="223.48" class="lt">GWO</text><path d="M404.5 226.95h11.2" stroke="#00f0ff" class="ll"/><text x="416.6" y="228.25" class="lt">PSO</text><path d="M404.5 231.72h11.2" stroke="#1e1eff" class="ll"/><text x="416.6" y="233.03" class="lt">SCA</text><path d="M404.5 236.5h11.2" stroke="#2a9272" class="ll"/><text x="416.6" y="237.8" class="lt">SSA</text><path d="M404.5 241.27h11.2" stroke="#f5cf1e" class="ll"/><text x="416.6" y="242.57" class="lt">WOA</text><path d="M404.5 246.05h11.2" stroke="#ff1eff" class="ll"/><text x="416.6" y="247.35" class="lt">GEO</text><path d="M404.5 250.82h11.2" stroke="#ff7d0a" class="ll"/><text x="416.6" y="252.12" class="lt">GEO-DLS</text><path d="M404.5 255.6h11.2" stroke="#ff1414" class="ll"/><text x="416.6" y="256.9" class="lt">IGEO</text></g>
<g><text x="84" y="285.1" class="t">F7</text><text x="89" y="296.4" class="s">Salomon</text><rect x="27.3" y="299" width="123.4" height="98.4" class="ax"/><text x="27.3" y="402.7" class="k">0</text><text x="39.64" y="402.7" class="k">100</text><text x="51.98" y="402.7" class="k">200</text><text x="64.32" y="402.7" class="k">300</text><text x="76.66" y="402.7" class="k">400</text><text x="89" y="402.7" class="k">500</text><text x="101.34" y="402.7" class="k">600</text><text x="113.68" y="402.7" class="k">700</text><text x="126.02" y="402.7" class="k">800</text><text x="138.36" y="402.7" class="k">900</text><text x="150.7" y="402.7" class="k">1000</text><text x="25.7" y="301.45" class="yk">10<tspan dy="-1.7" class="e">0</tspan></text><text x="25.7" y="326.05" class="yk">10<tspan dy="-1.7" class="e">-50</tspan></text><text x="25.7" y="350.65" class="yk">10<tspan dy="-1.7" class="e">-100</tspan></text><text x="25.7" y="375.25" class="yk">10<tspan dy="-1.7" class="e">-150</tspan></text><text x="25.7" y="399.85" class="yk">10<tspan dy="-1.7" class="e">-200</tspan></text><path d="M27.3 397.4v-1.2M27.3 299v1.2M39.64 397.4v-1.2M39.64 299v1.2M51.98 397.4v-1.2M51.98 299v1.2M64.32 397.4v-1.2M64.32 299v1.2M76.66 397.4v-1.2M76.66 299v1.2M89 397.4v-1.2M89 299v1.2M101.34 397.4v-1.2M101.34 299v1.2M113.68 397.4v-1.2M113.68 299v1.2M126.02 397.4v-1.2M126.02 299v1.2M138.36 397.4v-1.2M138.36 299v1.2M150.7 397.4v-1.2M150.7 299v1.2M27.3 299h1.2M150.7 299h-1.2M27.3 323.6h1.2M150.7 323.6h-1.2M27.3 348.2h1.2M150.7 348.2h-1.2M27.3 372.8h1.2M150.7 372.8h-1.2M27.3 397.4h1.2M150.7 397.4h-1.2M27.3 303.47h0.8M150.7 303.47h-0.8M27.3 307.95h0.8M150.7 307.95h-0.8M27.3 312.42h0.8M150.7 312.42h-0.8M27.3 316.89h0.8M150.7 316.89h-0.8M27.3 321.36h0.8M150.7 321.36h-0.8M27.3 325.84h0.8M150.7 325.84h-0.8M27.3 330.31h0.8M150.7 330.31h-0.8M27.3 334.78h0.8M150.7 334.78h-0.8M27.3 339.25h0.8M150.7 339.25h-0.8M27.3 343.73h0.8M150.7 343.73h-0.8M27.3 348.2h0.8M150.7 348.2h-0.8M27.3 352.67h0.8M150.7 352.67h-0.8M27.3 357.15h0.8M150.7 357.15h-0.8M27.3 361.62h0.8M150.7 361.62h-0.8M27.3 366.09h0.8M150.7 366.09h-0.8M27.3 370.56h0.8M150.7 370.56h-0.8M27.3 375.04h0.8M150.7 375.04h-0.8M27.3 379.51h0.8M150.7 379.51h-0.8M27.3 383.98h0.8M150.7 383.98h-0.8M27.3 388.45h0.8M150.7 388.45h-0.8M27.3 392.93h0.8M150.7 392.93h-0.8" class="tk"/><text x="89" y="408.4" class="xl">Iteration time</text><text transform="translate(13.1 348.2) rotate(-90)" class="yl">Average optimal value</text><path d="M27.3,299.9 150.2,299.9" stroke="#1ef01e" class="ln"/><path d="M27.3,299.7 150.2,299.7" stroke="#8c46ff" class="ln"/><path d="M27.3,299.8 150.2,299.8" stroke="#00f0ff" class="ln"/><path d="M27.3,299.6 150.2,299.6" stroke="#1e1eff" class="ln"/><path d="M27.3,299.8 150.2,299.8" stroke="#2a9272" class="ln"/><path d="M27.3,300.3 150.2,300.3" stroke="#f5cf1e" class="ln"/><path d="M27.3,299.75 150.2,299.75" stroke="#ff1eff" class="ln"/><path d="M27.3,300.2 150.2,300.2" stroke="#ff7d0a" class="ln"/><path d="M27.3,299.2C29.17,299.8 31.2,300.1 32.9,301C34.17,301.67 35.21,302.82 36.2,303.9C37.81,305.66 39.08,307.74 40.7,309.5C42.85,311.84 45.14,314.07 47.5,316.2C49.27,317.8 51.33,319.09 53.1,320.7C55.07,322.49 56.73,324.62 58.7,326.4C60.49,328.02 62.69,329.2 64.4,330.9C66.46,332.94 68.04,335.45 70,337.6C71.78,339.55 73.74,341.33 75.6,343.2C77.47,345.09 79.23,347.12 81.2,348.9C82.99,350.52 85.01,351.89 86.9,353.4C88.77,354.89 90.63,356.4 92.5,357.9C94.37,359.4 96.14,361.04 98.1,362.4C99.87,363.64 101.79,364.67 103.7,365.7C105.93,366.9 108.24,367.96 110.5,369.1C112.74,370.23 114.92,371.47 117.2,372.5C119.42,373.5 121.82,374.12 124,375.2C126.32,376.35 128.47,377.87 130.7,379.2" stroke="#ff1414" class="ln"/><rect x="30.3" y="350.3" width="30.6" height="43.6" class="lg"/><path d="M31.4 353.4h11.2" stroke="#1ef01e" class="ll"/><text x="43.5" y="354.7" class="lt">BOA</text><path d="M31.4 358.18h11.2" stroke="#8c46ff" class="ll"/><text x="43.5" y="359.48" class="lt">GWO</text><path d="M31.4 362.95h11.2" stroke="#00f0ff" class="ll"/><text x="43.5" y="364.25" class="lt">PSO</text><path d="M31.4 367.73h11.2" stroke="#1e1eff" class="ll"/><text x="43.5" y="369.03" class="lt">SCA</text><path d="M31.4 372.5h11.2" stroke="#2a9272" class="ll"/><text x="43.5" y="373.8" class="lt">SSA</text><path d="M31.4 377.28h11.2" stroke="#f5cf1e" class="ll"/><text x="43.5" y="378.58" class="lt">WOA</text><path d="M31.4 382.05h11.2" stroke="#ff1eff" class="ll"/><text x="43.5" y="383.35" class="lt">GEO</text><path d="M31.4 386.82h11.2" stroke="#ff7d0a" class="ll"/><text x="43.5" y="388.12" class="lt">GEO-DLS</text><path d="M31.4 391.6h11.2" stroke="#ff1414" class="ll"/><text x="43.5" y="392.9" class="lt">IGEO</text></g>
<g><text x="248.9" y="285.1" class="t">F8</text><text x="253.75" y="296.1" class="s">Yang 4</text><rect x="192" y="298.7" width="123.5" height="98.7" class="ax"/><text x="192" y="402.7" class="k">0</text><text x="204.35" y="402.7" class="k">100</text><text x="216.7" y="402.7" class="k">200</text><text x="229.05" y="402.7" class="k">300</text><text x="241.4" y="402.7" class="k">400</text><text x="253.75" y="402.7" class="k">500</text><text x="266.1" y="402.7" class="k">600</text><text x="278.45" y="402.7" class="k">700</text><text x="290.8" y="402.7" class="k">800</text><text x="303.15" y="402.7" class="k">900</text><text x="315.5" y="402.7" class="k">1000</text><text x="190.4" y="301.15" class="yk">10<tspan dy="-1.7" class="e">0</tspan></text><text x="190.4" y="320.89" class="yk">10<tspan dy="-1.7" class="e">-5</tspan></text><text x="190.4" y="340.63" class="yk">10<tspan dy="-1.7" class="e">-10</tspan></text><text x="190.4" y="360.37" class="yk">10<tspan dy="-1.7" class="e">-15</tspan></text><text x="190.4" y="380.11" class="yk">10<tspan dy="-1.7" class="e">-20</tspan></text><text x="190.4" y="399.85" class="yk">10<tspan dy="-1.7" class="e">-25</tspan></text><path d="M192 397.4v-1.2M192 298.7v1.2M204.35 397.4v-1.2M204.35 298.7v1.2M216.7 397.4v-1.2M216.7 298.7v1.2M229.05 397.4v-1.2M229.05 298.7v1.2M241.4 397.4v-1.2M241.4 298.7v1.2M253.75 397.4v-1.2M253.75 298.7v1.2M266.1 397.4v-1.2M266.1 298.7v1.2M278.45 397.4v-1.2M278.45 298.7v1.2M290.8 397.4v-1.2M290.8 298.7v1.2M303.15 397.4v-1.2M303.15 298.7v1.2M315.5 397.4v-1.2M315.5 298.7v1.2M192 298.7h1.2M315.5 298.7h-1.2M192 318.44h1.2M315.5 318.44h-1.2M192 338.18h1.2M315.5 338.18h-1.2M192 357.92h1.2M315.5 357.92h-1.2M192 377.66h1.2M315.5 377.66h-1.2M192 397.4h1.2M315.5 397.4h-1.2M192 303.19h0.8M315.5 303.19h-0.8M192 307.67h0.8M315.5 307.67h-0.8M192 312.16h0.8M315.5 312.16h-0.8M192 316.65h0.8M315.5 316.65h-0.8M192 321.13h0.8M315.5 321.13h-0.8M192 325.62h0.8M315.5 325.62h-0.8M192 330.1h0.8M315.5 330.1h-0.8M192 334.59h0.8M315.5 334.59h-0.8M192 339.08h0.8M315.5 339.08h-0.8M192 343.56h0.8M315.5 343.56h-0.8M192 348.05h0.8M315.5 348.05h-0.8M192 352.54h0.8M315.5 352.54h-0.8M192 357.02h0.8M315.5 357.02h-0.8M192 361.51h0.8M315.5 361.51h-0.8M192 366h0.8M315.5 366h-0.8M192 370.48h0.8M315.5 370.48h-0.8M192 374.97h0.8M315.5 374.97h-0.8M192 379.45h0.8M315.5 379.45h-0.8M192 383.94h0.8M315.5 383.94h-0.8M192 388.43h0.8M315.5 388.43h-0.8M192 392.91h0.8M315.5 392.91h-0.8" class="tk"/><text x="253.75" y="408.4" class="xl">Iteration time</text><text transform="translate(179.6 348.05) rotate(-90)" class="yl">Average optimal value</text><path d="M192.2,326.6C193.1,327.4 194.03,328.17 194.9,329C196.03,330.07 197.13,331.17 198.2,332.3C199.6,333.77 200.79,335.49 202.3,336.8C202.99,337.39 203.9,337.83 204.8,338C207.37,338.49 210.07,338.54 212.7,338.8C218.47,339.37 224.23,339.99 230,340.5C234.46,340.89 238.93,341.3 243.4,341.5C250.93,341.83 258.47,341.9 266,342.1C282.33,342.53 298.67,342.97 315,343.4" stroke="#1ef01e" class="ln"/><path d="M192.3,337.5C193.37,338.53 194.26,339.87 195.5,340.6C196.53,341.21 197.88,341.34 199.1,341.5C203.61,342.1 208.16,342.63 212.7,342.9C217.12,343.16 221.58,342.85 226,343.1C231.11,343.39 236.2,344 241.3,344.5C246.44,345 251.56,345.66 256.7,346.1C259.79,346.36 262.9,346.4 266,346.6C274.27,347.13 282.57,347.46 290.8,348.3C294.93,348.72 299.04,349.52 303.1,350.4C305.21,350.86 307.35,351.43 309.3,352.3C310.65,352.9 312.23,353.62 313,354.8C314.13,356.52 314.33,358.93 315,361" stroke="#8c46ff" class="ln"/><path d="M192.3,337.5C194.57,338.17 196.8,338.99 199.1,339.5C203.6,340.49 208.14,341.32 212.7,342C217.11,342.66 221.6,342.79 226,343.5C231.13,344.33 236.22,345.49 241.3,346.6C246.45,347.72 251.67,348.67 256.7,350.2C259.91,351.17 263.03,352.54 266,354.1C270.27,356.34 274.4,358.9 278.4,361.6C282.66,364.47 286.77,367.6 290.8,370.8C293.77,373.17 296.52,375.82 299.4,378.3C300.62,379.35 301.72,380.62 303.1,381.4C304.62,382.26 306.41,382.67 308.1,383.2C310.38,383.91 312.7,384.47 315,385.1" stroke="#00f0ff" class="ln"/><path d="M192,326.1C193.77,326.4 195.52,326.8 197.3,327C200.92,327.4 204.57,327.56 208.2,327.9C214.14,328.46 220.08,328.97 226,329.7C239.35,331.34 252.65,333.41 266,335C274.25,335.98 282.51,336.94 290.8,337.4C298.85,337.84 306.93,337.6 315,337.7" stroke="#1e1eff" class="ln"/><path d="M192.3,337C196.07,337.17 199.83,337.37 203.6,337.5C211.07,337.77 218.53,337.93 226,338.2C228.73,338.3 231.5,338.25 234.2,338.6C235.93,338.82 237.7,339.22 239.3,339.9C240.77,340.52 241.98,341.73 243.4,342.5C246.08,343.96 248.87,345.23 251.6,346.6C255,348.3 258.33,350.18 261.8,351.7C263.13,352.28 264.76,352.16 266,352.9C270.29,355.46 274.21,358.78 278.4,361.6C282.48,364.35 286.77,366.78 290.8,369.6C295.01,372.55 298.92,375.91 303.1,378.9C306.99,381.68 311.03,384.23 315,386.9" stroke="#2a9272" class="ln"/><path d="M194.9,341.8C194.9,335.87 194.88,329.93 194.9,324C194.92,318.67 194.74,313.3 195,308C195.04,307.13 195.34,306.19 195.8,305.5C196.17,304.95 196.89,304.61 197.5,304.3C198.59,303.75 199.73,303.24 200.9,302.9C202.69,302.38 204.54,301.87 206.4,301.7C210.01,301.37 213.67,301.41 217.3,301.4C249.87,301.31 282.43,301.4 315,301.4" stroke="#f5cf1e" class="ln"/><path d="M192.3,337C194.57,337.6 196.8,338.39 199.1,338.8C203.6,339.59 208.16,340.06 212.7,340.6C217.13,341.13 221.64,341.17 226,342C229.47,342.67 232.77,344.16 236.2,345.1C239.57,346.03 243.02,346.68 246.4,347.6C249.86,348.54 253.38,349.38 256.7,350.7C259.91,351.98 262.93,353.77 266,355.4C270.16,357.61 274.18,360.11 278.4,362.2C282.45,364.21 286.68,365.85 290.8,367.7C294.91,369.55 298.97,371.49 303.1,373.3C307.04,375.03 311.03,376.63 315,378.3" stroke="#ff1eff" class="ln"/><path d="M192.2,328C192.33,329 192.47,330 192.6,331C192.83,332.73 192.74,334.66 193.3,336.2C193.51,336.79 194.26,337.29 194.9,337.4C198.62,338.03 202.58,337.97 206.4,338.4C212.94,339.14 219.45,340.24 226,340.9C231.45,341.44 236.93,341.63 242.4,342C242.43,333.33 242.19,324.64 242.5,316C242.56,314.31 242.81,312.48 243.5,311C243.98,309.98 245,309.09 246,308.5C247.6,307.55 249.45,306.82 251.3,306.4C256.42,305.25 261.66,304.32 266.9,303.8C275.53,302.95 284.23,302.71 292.9,302.3C300.26,301.95 307.63,301.77 315,301.5" stroke="#ff7d0a" class="ln"/><path d="M192.3,306.1C192.3,304.57 192.1,302.99 192.3,301.5C192.4,300.76 192.71,299.89 193.2,299.4C193.61,298.99 194.38,298.91 195,298.8C195.75,298.67 196.53,298.7 197.3,298.7C236.53,298.67 275.77,298.7 315,298.7" stroke="#ff1414" class="ln"/><rect x="195.1" y="350.1" width="30.5" height="44.3" class="lg"/><path d="M196.2 353.2h11.2" stroke="#1ef01e" class="ll"/><text x="208.3" y="354.5" class="lt">BOA</text><path d="M196.2 358.06h11.2" stroke="#8c46ff" class="ll"/><text x="208.3" y="359.36" class="lt">GWO</text><path d="M196.2 362.93h11.2" stroke="#00f0ff" class="ll"/><text x="208.3" y="364.23" class="lt">PSO</text><path d="M196.2 367.79h11.2" stroke="#1e1eff" class="ll"/><text x="208.3" y="369.09" class="lt">SCA</text><path d="M196.2 372.65h11.2" stroke="#2a9272" class="ll"/><text x="208.3" y="373.95" class="lt">SSA</text><path d="M196.2 377.51h11.2" stroke="#f5cf1e" class="ll"/><text x="208.3" y="378.81" class="lt">WOA</text><path d="M196.2 382.38h11.2" stroke="#ff1eff" class="ll"/><text x="208.3" y="383.68" class="lt">GEO</text><path d="M196.2 387.24h11.2" stroke="#ff7d0a" class="ll"/><text x="208.3" y="388.54" class="lt">GEO-DLS</text><path d="M196.2 392.1h11.2" stroke="#ff1414" class="ll"/><text x="208.3" y="393.4" class="lt">IGEO</text></g>
<g><text x="413.1" y="285.1" class="t">F9</text><text x="416.35" y="297.6" class="s">Matyas</text><rect x="356.1" y="300.2" width="120.5" height="95.8" class="ax"/><text x="356.1" y="401.3" class="k">0</text><text x="368.15" y="401.3" class="k">100</text><text x="380.2" y="401.3" class="k">200</text><text x="392.25" y="401.3" class="k">300</text><text x="404.3" y="401.3" class="k">400</text><text x="416.35" y="401.3" class="k">500</text><text x="428.4" y="401.3" class="k">600</text><text x="440.45" y="401.3" class="k">700</text><text x="452.5" y="401.3" class="k">800</text><text x="464.55" y="401.3" class="k">900</text><text x="476.6" y="401.3" class="k">1000</text><text x="354.5" y="302.65" class="yk">10<tspan dy="-1.7" class="e">0</tspan></text><text x="354.5" y="332.22" class="yk">10<tspan dy="-1.7" class="e">-100</tspan></text><text x="354.5" y="361.79" class="yk">10<tspan dy="-1.7" class="e">-200</tspan></text><text x="354.5" y="391.35" class="yk">10<tspan dy="-1.7" class="e">-300</tspan></text><path d="M356.1 396v-1.2M356.1 300.2v1.2M368.15 396v-1.2M368.15 300.2v1.2M380.2 396v-1.2M380.2 300.2v1.2M392.25 396v-1.2M392.25 300.2v1.2M404.3 396v-1.2M404.3 300.2v1.2M416.35 396v-1.2M416.35 300.2v1.2M428.4 396v-1.2M428.4 300.2v1.2M440.45 396v-1.2M440.45 300.2v1.2M452.5 396v-1.2M452.5 300.2v1.2M464.55 396v-1.2M464.55 300.2v1.2M476.6 396v-1.2M476.6 300.2v1.2M356.1 300.2h1.2M476.6 300.2h-1.2M356.1 329.77h1.2M476.6 329.77h-1.2M356.1 359.34h1.2M476.6 359.34h-1.2M356.1 388.9h1.2M476.6 388.9h-1.2M356.1 304.76h0.8M476.6 304.76h-0.8M356.1 309.32h0.8M476.6 309.32h-0.8M356.1 313.89h0.8M476.6 313.89h-0.8M356.1 318.45h0.8M476.6 318.45h-0.8M356.1 323.01h0.8M476.6 323.01h-0.8M356.1 327.57h0.8M476.6 327.57h-0.8M356.1 332.13h0.8M476.6 332.13h-0.8M356.1 336.7h0.8M476.6 336.7h-0.8M356.1 341.26h0.8M476.6 341.26h-0.8M356.1 345.82h0.8M476.6 345.82h-0.8M356.1 350.38h0.8M476.6 350.38h-0.8M356.1 354.94h0.8M476.6 354.94h-0.8M356.1 359.5h0.8M476.6 359.5h-0.8M356.1 364.07h0.8M476.6 364.07h-0.8M356.1 368.63h0.8M476.6 368.63h-0.8M356.1 373.19h0.8M476.6 373.19h-0.8M356.1 377.75h0.8M476.6 377.75h-0.8M356.1 382.31h0.8M476.6 382.31h-0.8M356.1 386.88h0.8M476.6 386.88h-0.8M356.1 391.44h0.8M476.6 391.44h-0.8" class="tk"/><text x="416.35" y="407" class="xl">Iteration time</text><text transform="translate(341.9 348.1) rotate(-90)" class="yl">Average optimal value</text><path d="M356.3,300.4C372.87,301 389.43,301.76 406,302.2C429.36,302.82 452.73,303.13 476.1,303.6" stroke="#1ef01e" class="ln"/><path d="M356.4,300.4C357.6,302.1 358.79,303.81 360,305.5C361.32,307.34 362.67,309.17 364,311C365.33,312.83 366.63,314.7 368,316.5C369.29,318.2 370.62,319.87 372,321.5C373.45,323.21 374.93,324.9 376.5,326.5C377.87,327.9 379.54,329.01 380.8,330.5C382.48,332.48 383.84,334.74 385.3,336.9C386.31,338.4 386.98,340.18 388.2,341.5C390.68,344.18 393.71,346.39 396.4,348.9C397.81,350.22 399.04,351.74 400.5,353C403.14,355.27 405.97,357.33 408.7,359.5C410.07,360.59 411.3,361.92 412.8,362.8C415.06,364.12 417.61,364.99 420,366.1C423.91,367.92 427.73,369.93 431.7,371.6C435.03,373 438.43,374.29 441.9,375.3C446.53,376.65 451.23,377.96 456,378.7C462.63,379.73 469.4,379.97 476.1,380.6" stroke="#8c46ff" class="ln"/><path d="M356.4,300.4C366.5,301.53 376.59,302.76 386.7,303.8C391.12,304.26 395.6,304.31 400,304.9C405.5,305.64 410.96,306.69 416.4,307.8C424.3,309.42 432.26,310.91 440,313.1C445.46,314.64 450.68,317.01 456,319C462.71,321.51 469.4,324.07 476.1,326.6" stroke="#00f0ff" class="ln"/><path d="M356.3,300.4C363,301.63 369.76,302.6 376.4,304.1C381.26,305.2 386.15,306.46 390.8,308.2C394.35,309.53 397.86,311.22 401,313.3C403.99,315.28 406.46,318.04 409.2,320.4C411.23,322.14 413.14,324.04 415.3,325.6C417.9,327.48 420.58,329.41 423.5,330.7C426.71,332.11 430.25,332.94 433.7,333.7C437.05,334.44 440.48,334.88 443.9,335.2C447.92,335.58 451.96,335.7 456,335.8C462.7,335.97 469.4,335.93 476.1,336" stroke="#1e1eff" class="ln"/><path d="M356.3,300.4C372.87,301.13 389.43,302.05 406,302.6C429.36,303.38 452.73,303.8 476.1,304.4" stroke="#2a9272" class="ln"/><path d="M356.3,300.4C360.3,301.63 364.27,302.97 368.3,304.1C372.34,305.23 376.45,306.1 380.5,307.2C383.95,308.14 387.48,308.92 390.8,310.2C393.61,311.28 396.37,312.67 398.9,314.3C401.14,315.74 403.3,317.45 405.1,319.4C407.4,321.88 409.24,324.81 411.2,327.6C413.31,330.61 415.48,333.61 417.3,336.8C419.58,340.78 421.44,345 423.5,349.1C425.54,353.16 427.56,357.24 429.6,361.3C431.66,365.4 433.75,369.49 435.8,373.6C437.15,376.32 438.45,379.08 439.8,381.8C440.81,383.84 441.77,385.93 442.9,387.9C443.34,388.66 443.97,389.3 444.5,390" stroke="#f5cf1e" class="ln"/><path d="M356.4,300.4C362.6,301.2 368.82,301.9 375,302.8C379.12,303.4 383.21,304.15 387.3,304.9C391.54,305.68 395.79,306.45 400,307.4C405.49,308.65 410.95,310.06 416.4,311.5C424.29,313.59 432.13,315.85 440,318C445.33,319.45 450.65,320.94 456,322.3C462.68,324 469.4,325.57 476.1,327.2" stroke="#ff1eff" class="ln"/><path d="M356.3,300.4C369.83,301.63 383.39,302.62 396.9,304.1C407.16,305.22 417.35,306.97 427.6,308.2C437.05,309.34 446.55,310.03 456,311.2C462.72,312.03 469.4,313.2 476.1,314.2" stroke="#ff7d0a" class="ln"/><path d="M356.4,300.4C357.57,301.5 358.82,302.52 359.9,303.7C361.35,305.29 362.63,307.04 364,308.7C365.36,310.34 366.75,311.96 368.1,313.6C369.21,314.96 370.29,316.34 371.4,317.7C372.75,319.34 374.07,321.03 375.5,322.6C376.8,324.03 378.27,325.3 379.6,326.7C380.61,327.76 381.62,328.83 382.5,330C384.49,332.66 386.06,335.67 388.2,338.2C390.69,341.14 393.51,343.85 396.4,346.4C398.15,347.95 400.49,348.89 402.1,350.5C402.95,351.35 402.97,352.93 403.8,353.8C404.91,354.96 406.85,355.4 407.9,356.6C408.75,357.57 408.74,359.22 409.5,360.3C410.38,361.55 411.58,362.65 412.8,363.6C415.08,365.38 417.67,366.77 420,368.5C422.61,370.44 425.09,372.53 427.6,374.6C429.66,376.3 431.57,378.19 433.7,379.8C435.64,381.26 437.86,382.35 439.8,383.8C441.96,385.41 443.88,387.34 446,389C446.95,389.74 448,390.33 449,391" stroke="#ff1414" class="ln"/><rect x="359.3" y="350.3" width="29.3" height="43.1" class="lg"/><path d="M360.4 353.4h11.2" stroke="#1ef01e" class="ll"/><text x="372.5" y="354.7" class="lt">BOA</text><path d="M360.4 358.11h11.2" stroke="#8c46ff" class="ll"/><text x="372.5" y="359.41" class="lt">GWO</text><path d="M360.4 362.83h11.2" stroke="#00f0ff" class="ll"/><text x="372.5" y="364.13" class="lt">PSO</text><path d="M360.4 367.54h11.2" stroke="#1e1eff" class="ll"/><text x="372.5" y="368.84" class="lt">SCA</text><path d="M360.4 372.25h11.2" stroke="#2a9272" class="ll"/><text x="372.5" y="373.55" class="lt">SSA</text><path d="M360.4 376.96h11.2" stroke="#f5cf1e" class="ll"/><text x="372.5" y="378.26" class="lt">WOA</text><path d="M360.4 381.68h11.2" stroke="#ff1eff" class="ll"/><text x="372.5" y="382.98" class="lt">GEO</text><path d="M360.4 386.39h11.2" stroke="#ff7d0a" class="ll"/><text x="372.5" y="387.69" class="lt">GEO-DLS</text><path d="M360.4 391.1h11.2" stroke="#ff1414" class="ll"/><text x="372.5" y="392.4" class="lt">IGEO</text></g>
<g><text x="84.1" y="422.6" class="t">F10</text><text x="87.25" y="433.8" class="s">Three Hump Camel</text><rect x="26.9" y="436.4" width="120.7" height="95.6" class="ax"/><text x="26.9" y="537.3" class="k">0</text><text x="38.97" y="537.3" class="k">100</text><text x="51.04" y="537.3" class="k">200</text><text x="63.11" y="537.3" class="k">300</text><text x="75.18" y="537.3" class="k">400</text><text x="87.25" y="537.3" class="k">500</text><text x="99.32" y="537.3" class="k">600</text><text x="111.39" y="537.3" class="k">700</text><text x="123.46" y="537.3" class="k">800</text><text x="135.53" y="537.3" class="k">900</text><text x="147.6" y="537.3" class="k">1000</text><text x="25.3" y="438.85" class="yk">10<tspan dy="-1.7" class="e">0</tspan></text><text x="25.3" y="468.36" class="yk">10<tspan dy="-1.7" class="e">-100</tspan></text><text x="25.3" y="497.86" class="yk">10<tspan dy="-1.7" class="e">-200</tspan></text><text x="25.3" y="527.37" class="yk">10<tspan dy="-1.7" class="e">-300</tspan></text><path d="M26.9 532v-1.2M26.9 436.4v1.2M38.97 532v-1.2M38.97 436.4v1.2M51.04 532v-1.2M51.04 436.4v1.2M63.11 532v-1.2M63.11 436.4v1.2M75.18 532v-1.2M75.18 436.4v1.2M87.25 532v-1.2M87.25 436.4v1.2M99.32 532v-1.2M99.32 436.4v1.2M111.39 532v-1.2M111.39 436.4v1.2M123.46 532v-1.2M123.46 436.4v1.2M135.53 532v-1.2M135.53 436.4v1.2M147.6 532v-1.2M147.6 436.4v1.2M26.9 436.4h1.2M147.6 436.4h-1.2M26.9 465.91h1.2M147.6 465.91h-1.2M26.9 495.41h1.2M147.6 495.41h-1.2M26.9 524.92h1.2M147.6 524.92h-1.2M26.9 440.95h0.8M147.6 440.95h-0.8M26.9 445.5h0.8M147.6 445.5h-0.8M26.9 450.06h0.8M147.6 450.06h-0.8M26.9 454.61h0.8M147.6 454.61h-0.8M26.9 459.16h0.8M147.6 459.16h-0.8M26.9 463.71h0.8M147.6 463.71h-0.8M26.9 468.27h0.8M147.6 468.27h-0.8M26.9 472.82h0.8M147.6 472.82h-0.8M26.9 477.37h0.8M147.6 477.37h-0.8M26.9 481.92h0.8M147.6 481.92h-0.8M26.9 486.48h0.8M147.6 486.48h-0.8M26.9 491.03h0.8M147.6 491.03h-0.8M26.9 495.58h0.8M147.6 495.58h-0.8M26.9 500.13h0.8M147.6 500.13h-0.8M26.9 504.69h0.8M147.6 504.69h-0.8M26.9 509.24h0.8M147.6 509.24h-0.8M26.9 513.79h0.8M147.6 513.79h-0.8M26.9 518.34h0.8M147.6 518.34h-0.8M26.9 522.9h0.8M147.6 522.9h-0.8M26.9 527.45h0.8M147.6 527.45h-0.8" class="tk"/><text x="87.25" y="543" class="xl">Iteration time</text><text transform="translate(12.7 484.2) rotate(-90)" class="yl">Average optimal value</text><path d="M27.1,436.4C34.73,437 42.36,437.76 50,438.2C61.66,438.86 73.33,439.27 85,439.7C95,440.07 105,440.29 115,440.6C125.7,440.93 136.4,441.27 147.1,441.6" stroke="#1ef01e" class="ln"/><path d="M27.1,436.4C27.67,437.1 28.32,437.74 28.8,438.5C29.98,440.34 31.07,442.26 32.1,444.2C33.54,446.9 34.78,449.7 36.2,452.4C37.51,454.9 38.87,457.37 40.3,459.8C41.6,462.01 42.97,464.18 44.4,466.3C45.27,467.58 46.39,468.69 47.2,470C48.25,471.69 49.06,473.53 50,475.3C51.96,479 53.97,482.68 55.9,486.4C57.77,490.01 59.58,493.66 61.4,497.3C63.21,500.93 64.99,504.57 66.8,508.2C68.62,511.84 70.52,515.44 72.3,519.1C73.62,521.81 74.83,524.57 76.1,527.3" stroke="#8c46ff" class="ln"/><path d="M27.1,436.4C35.07,437.1 43.1,437.34 51,438.5C59.73,439.78 68.38,441.76 77,443.7C85.68,445.66 94.4,447.6 102.9,450.2C109.97,452.36 117,454.91 123.7,458C128.27,460.11 132.45,463.07 136.7,465.8C140.25,468.07 143.63,470.6 147.1,473" stroke="#00f0ff" class="ln"/><path d="M27.1,436.4C27.67,436.8 28.15,437.39 28.8,437.6C31.18,438.36 33.77,438.6 36.2,439.3C38.97,440.1 41.72,441.04 44.4,442.1C47.18,443.2 49.87,444.57 52.6,445.8C55.33,447.03 58.08,448.24 60.8,449.5C62.55,450.31 64.31,451.08 66,452C67.38,452.75 68.71,453.6 70,454.5C71.68,455.67 73.37,456.85 74.9,458.2C76.63,459.72 78.16,461.47 79.8,463.1C81.46,464.74 83.04,466.47 84.8,468C86.34,469.34 87.98,470.61 89.7,471.7C91.24,472.68 92.9,473.53 94.6,474.2C96.7,475.03 98.93,475.55 101.1,476.2C103.03,476.78 104.93,477.49 106.9,477.9C109.87,478.52 112.88,479.03 115.9,479.3C120.58,479.73 125.3,479.85 130,480C135.7,480.18 141.4,480.2 147.1,480.3" stroke="#1e1eff" class="ln"/><path d="M27.1,436.4C46.4,437.03 65.7,437.82 85,438.3C95,438.55 105.01,438.29 115,438.6C125.71,438.93 136.4,439.67 147.1,440.2" stroke="#2a9272" class="ln"/><path d="M27.1,436.4C33.33,437.53 39.64,438.43 45.8,439.8C47.27,440.13 48.55,441.09 50,441.5C51.99,442.06 54.09,442.19 56.1,442.7C58.19,443.23 60.27,443.87 62.3,444.6C63.97,445.2 65.65,445.86 67.2,446.7C68.28,447.29 69.16,448.23 70.2,448.9C71.19,449.53 72.34,449.93 73.3,450.6C74.4,451.36 75.37,452.33 76.4,453.2C77.41,454.06 78.52,454.82 79.4,455.8C80.76,457.32 81.7,459.23 83.1,460.7C84.56,462.23 86.36,463.44 88,464.8C89.66,466.17 91.27,467.62 93,468.9C94.57,470.06 96.27,471.02 97.9,472.1C99.54,473.19 101.08,474.46 102.8,475.4C105.11,476.66 107.69,477.43 110,478.7C112.06,479.83 113.76,481.65 115.9,482.6C120.06,484.45 124.49,485.88 128.9,487.1C134.89,488.75 141.03,489.83 147.1,491.2" stroke="#f5cf1e" class="ln"/><path d="M27.1,436.4C35.07,437.97 43.13,439.13 51,441.1C59.77,443.3 68.4,446.1 77,448.9C85.7,451.73 94.26,454.97 102.9,458C111.56,461.04 120.24,464.04 128.9,467.1C134.97,469.24 141.03,471.43 147.1,473.6" stroke="#ff1eff" class="ln"/><path d="M27.1,436.4C35.07,437.1 43.06,437.55 51,438.5C59.7,439.55 68.33,441.1 77,442.4C85.63,443.7 94.25,445.08 102.9,446.3C111.55,447.52 120.3,448.18 128.9,449.7C135.04,450.78 141.03,452.63 147.1,454.1" stroke="#ff7d0a" class="ln"/><path d="M27.1,436.4C27.67,436.8 28.29,437.14 28.8,437.6C29.95,438.64 31.06,439.75 32.1,440.9C33.53,442.48 34.84,444.16 36.2,445.8C37.57,447.46 38.93,449.14 40.3,450.8C41.66,452.44 42.97,454.12 44.4,455.7C45.44,456.85 46.66,457.85 47.7,459C48.86,460.28 49.92,461.65 51,463C52.08,464.35 53.15,465.72 54.2,467.1C54.98,468.12 55.62,469.27 56.5,470.2C57.29,471.04 58.5,471.5 59.2,472.4C60.13,473.6 60.57,475.19 61.4,476.5C62.37,478.03 63.5,479.46 64.6,480.9C66.03,482.76 67.43,484.66 69,486.4C70.7,488.29 72.6,490 74.4,491.8C75.5,492.9 76.68,493.93 77.7,495.1C78.88,496.46 79.76,498.11 81,499.4C82.19,500.64 83.8,501.46 85,502.7C86.77,504.53 88.16,506.73 89.9,508.6C92.4,511.29 95.23,513.68 97.7,516.4C99.56,518.45 101.2,520.71 102.9,522.9C104.23,524.61 105.5,526.37 106.8,528.1" stroke="#ff1414" class="ln"/><rect x="29.9" y="486.6" width="29.5" height="42.8" class="lg"/><path d="M31 489.7h11.2" stroke="#1ef01e" class="ll"/><text x="43.1" y="491" class="lt">BOA</text><path d="M31 494.38h11.2" stroke="#8c46ff" class="ll"/><text x="43.1" y="495.68" class="lt">GWO</text><path d="M31 499.05h11.2" stroke="#00f0ff" class="ll"/><text x="43.1" y="500.35" class="lt">PSO</text><path d="M31 503.73h11.2" stroke="#1e1eff" class="ll"/><text x="43.1" y="505.03" class="lt">SCA</text><path d="M31 508.4h11.2" stroke="#2a9272" class="ll"/><text x="43.1" y="509.7" class="lt">SSA</text><path d="M31 513.08h11.2" stroke="#f5cf1e" class="ll"/><text x="43.1" y="514.38" class="lt">WOA</text><path d="M31 517.75h11.2" stroke="#ff1eff" class="ll"/><text x="43.1" y="519.05" class="lt">GEO</text><path d="M31 522.42h11.2" stroke="#ff7d0a" class="ll"/><text x="43.1" y="523.72" class="lt">GEO-DLS</text><path d="M31 527.1h11.2" stroke="#ff1414" class="ll"/><text x="43.1" y="528.4" class="lt">IGEO</text></g>
<g><text x="248.2" y="422.6" class="t">F11</text><text x="253.55" y="432.6" class="s">Himmelblau</text><rect x="191.6" y="435.2" width="123.9" height="98.3" class="ax"/><text x="191.6" y="538.8" class="k">0</text><text x="203.99" y="538.8" class="k">100</text><text x="216.38" y="538.8" class="k">200</text><text x="228.77" y="538.8" class="k">300</text><text x="241.16" y="538.8" class="k">400</text><text x="253.55" y="538.8" class="k">500</text><text x="265.94" y="538.8" class="k">600</text><text x="278.33" y="538.8" class="k">700</text><text x="290.72" y="538.8" class="k">800</text><text x="303.11" y="538.8" class="k">900</text><text x="315.5" y="538.8" class="k">1000</text><text x="190" y="442.75" class="yk">10<tspan dy="-1.7" class="e">0</tspan></text><text x="190" y="473.31" class="yk">10<tspan dy="-1.7" class="e">-10</tspan></text><text x="190" y="503.87" class="yk">10<tspan dy="-1.7" class="e">-20</tspan></text><text x="190" y="534.42" class="yk">10<tspan dy="-1.7" class="e">-30</tspan></text><path d="M191.6 533.5v-1.2M191.6 435.2v1.2M203.99 533.5v-1.2M203.99 435.2v1.2M216.38 533.5v-1.2M216.38 435.2v1.2M228.77 533.5v-1.2M228.77 435.2v1.2M241.16 533.5v-1.2M241.16 435.2v1.2M253.55 533.5v-1.2M253.55 435.2v1.2M265.94 533.5v-1.2M265.94 435.2v1.2M278.33 533.5v-1.2M278.33 435.2v1.2M290.72 533.5v-1.2M290.72 435.2v1.2M303.11 533.5v-1.2M303.11 435.2v1.2M315.5 533.5v-1.2M315.5 435.2v1.2M191.6 440.3h1.2M315.5 440.3h-1.2M191.6 470.86h1.2M315.5 470.86h-1.2M191.6 501.42h1.2M315.5 501.42h-1.2M191.6 531.97h1.2M315.5 531.97h-1.2M191.6 439.67h0.8M315.5 439.67h-0.8M191.6 444.14h0.8M315.5 444.14h-0.8M191.6 448.6h0.8M315.5 448.6h-0.8M191.6 453.07h0.8M315.5 453.07h-0.8M191.6 457.54h0.8M315.5 457.54h-0.8M191.6 462.01h0.8M315.5 462.01h-0.8M191.6 466.48h0.8M315.5 466.48h-0.8M191.6 470.95h0.8M315.5 470.95h-0.8M191.6 475.41h0.8M315.5 475.41h-0.8M191.6 479.88h0.8M315.5 479.88h-0.8M191.6 484.35h0.8M315.5 484.35h-0.8M191.6 488.82h0.8M315.5 488.82h-0.8M191.6 493.29h0.8M315.5 493.29h-0.8M191.6 497.75h0.8M315.5 497.75h-0.8M191.6 502.22h0.8M315.5 502.22h-0.8M191.6 506.69h0.8M315.5 506.69h-0.8M191.6 511.16h0.8M315.5 511.16h-0.8M191.6 515.63h0.8M315.5 515.63h-0.8M191.6 520.1h0.8M315.5 520.1h-0.8M191.6 524.56h0.8M315.5 524.56h-0.8M191.6 529.03h0.8M315.5 529.03h-0.8" class="tk"/><text x="253.55" y="544.5" class="xl">Iteration time</text><text transform="translate(179.2 484.35) rotate(-90)" class="yl">Average optimal value</text><path d="M191.8,440.4 192.2,447.7 L192.2,447.7 193.1,444 L193.1,444 193.7,447 L193.7,447 194.9,442.8C195.73,442.6 196.55,442.16 197.4,442.2C203.25,442.49 209.12,443.4 215,443.8C225.32,444.5 235.66,445.22 246,445.5C268.99,446.12 292,446.17 315,446.5" stroke="#1ef01e" class="ln"/><path d="M191.8,438.5C192.53,439.5 192.99,440.88 194,441.5C195.72,442.55 197.93,443.17 200,443.5C204.76,444.27 209.66,444.39 214.5,444.8C225,445.69 235.49,446.68 246,447.4C255.52,448.05 265.07,448.35 274.6,448.9C281.77,449.32 288.95,449.69 296.1,450.3C299.91,450.62 303.78,450.92 307.5,451.7C309.48,452.12 311.56,452.83 313.2,453.9C314.12,454.5 314.53,455.77 315.2,456.7" stroke="#8c46ff" class="ln"/><path d="M191.8,437.9C192.83,439.53 193.5,441.61 194.9,442.8C196.17,443.88 198.14,444.15 199.8,444.7C201.84,445.38 203.93,445.9 206,446.5C208.03,447.1 210.13,447.53 212.1,448.3C213.8,448.96 215.5,449.79 217,450.8C217.93,451.42 218.6,452.4 219.4,453.2C220.63,454.43 221.92,455.62 223.1,456.9C224.38,458.29 225.66,459.69 226.8,461.2C228.13,462.96 229.33,464.83 230.5,466.7C231.79,468.76 232.96,470.91 234.2,473C235.59,475.34 237.19,477.57 238.4,480C240.29,483.8 241.68,487.85 243.5,491.7C245.98,496.95 248.9,502.01 251.3,507.3C253.23,511.55 254.92,515.91 256.5,520.3C257.65,523.48 258.4,526.8 259.5,530C259.83,530.97 260.12,532.2 260.8,532.8C261.29,533.23 262.26,533.1 263,533.1C280.33,533.2 297.67,533.1 315,533.1" stroke="#00f0ff" class="ln"/><path d="M191.8,436.5C192.23,437.5 192.36,438.78 193.1,439.5C194.22,440.58 195.81,441.59 197.4,441.9C202.95,442.99 208.78,443.35 214.5,443.7C226.32,444.42 238.16,444.79 250,445.1C271.66,445.66 293.33,445.9 315,446.3" stroke="#1e1eff" class="ln"/><path d="M191.8,438.5C193.2,439.53 194.35,441.16 196,441.6C201.92,443.16 208.32,443.61 214.5,444.5C219.66,445.24 224.84,445.78 230,446.5C235.34,447.25 240.72,447.85 246,448.9C250.82,449.85 255.68,450.88 260.3,452.5C265.21,454.22 269.88,456.67 274.6,458.9C279.41,461.17 284.14,463.62 288.9,466C293.67,468.39 298.51,470.65 303.2,473.2C307.28,475.42 311.2,477.93 315.2,480.3" stroke="#2a9272" class="ln"/><path d="M191.8,439.1C192.43,441.57 192.59,444.3 193.7,446.5C194.46,448 196,449.2 197.4,450.2C198.86,451.24 200.61,451.94 202.3,452.6C204.28,453.37 206.32,454.08 208.4,454.5C212.45,455.31 216.59,455.8 220.7,456.3C224.75,456.8 228.84,457.08 232.9,457.5C237.27,457.95 241.61,458.81 246,458.9C269.05,459.38 292.13,459.1 315.2,459.2" stroke="#f5cf1e" class="ln"/><path d="M191.8,435.5C192.23,436.7 192.29,438.22 193.1,439.1C194.15,440.25 195.8,441.28 197.4,441.6C202.93,442.71 208.78,443.01 214.5,443.4C224.98,444.11 235.49,444.63 246,444.9C269.06,445.5 292.13,445.63 315.2,446" stroke="#ff1eff" class="ln"/><path d="M191.8,438.5C193.2,439.5 194.37,441.07 196,441.5C201.93,443.07 208.32,443.57 214.5,444.5C219.66,445.27 224.84,445.88 230,446.6C235.34,447.35 240.67,448.13 246,448.9C250.77,449.59 255.54,450.28 260.3,451C265.07,451.72 269.82,452.6 274.6,453.2C279.35,453.8 284.13,454.13 288.9,454.6C293.67,455.07 298.43,455.53 303.2,456C307.2,456.4 311.2,456.8 315.2,457.2" stroke="#ff7d0a" class="ln"/><path d="M191.8,437.9C192.43,438.93 192.75,440.35 193.7,441C195.42,442.18 197.71,442.79 199.8,443.4C202.61,444.22 205.55,444.59 208.4,445.3C211.29,446.02 214.16,446.83 217,447.7C219.49,448.46 221.91,449.45 224.4,450.2C226.01,450.68 227.77,450.77 229.3,451.4C230.21,451.77 231.13,452.43 231.7,453.2C232.33,454.06 232.5,455.27 232.9,456.3C234.13,456.5 235.51,456.41 236.6,456.9C237.38,457.25 238.15,458.02 238.5,458.8C238.98,459.86 238.81,461.22 239.1,462.4C239.41,463.66 240.01,464.84 240.3,466.1C240.81,468.37 240.9,470.76 241.5,473C241.96,474.72 242.81,476.34 243.5,478C244.34,480.01 245.44,481.93 246.1,484C247.17,487.36 247.93,490.85 248.7,494.3C249.66,498.61 250.23,503.02 251.3,507.3C252.4,511.68 254.1,515.92 255.2,520.3C256.27,524.58 256.93,528.97 257.8,533.3" stroke="#ff1414" class="ln"/><rect x="194.9" y="486.3" width="30.5" height="44.3" class="lg"/><path d="M196 489.4h11.2" stroke="#1ef01e" class="ll"/><text x="208.1" y="490.7" class="lt">BOA</text><path d="M196 494.26h11.2" stroke="#8c46ff" class="ll"/><text x="208.1" y="495.56" class="lt">GWO</text><path d="M196 499.13h11.2" stroke="#00f0ff" class="ll"/><text x="208.1" y="500.43" class="lt">PSO</text><path d="M196 503.99h11.2" stroke="#1e1eff" class="ll"/><text x="208.1" y="505.29" class="lt">SCA</text><path d="M196 508.85h11.2" stroke="#2a9272" class="ll"/><text x="208.1" y="510.15" class="lt">SSA</text><path d="M196 513.71h11.2" stroke="#f5cf1e" class="ll"/><text x="208.1" y="515.01" class="lt">WOA</text><path d="M196 518.58h11.2" stroke="#ff1eff" class="ll"/><text x="208.1" y="519.88" class="lt">GEO</text><path d="M196 523.44h11.2" stroke="#ff7d0a" class="ll"/><text x="208.1" y="524.74" class="lt">GEO-DLS</text><path d="M196 528.3h11.2" stroke="#ff1414" class="ll"/><text x="208.1" y="529.6" class="lt">IGEO</text></g>
<g><text x="413.4" y="422.6" class="t">F12</text><text x="418.2" y="432.6" class="s">Levi 13</text><rect x="356.6" y="435.2" width="123.2" height="98.4" class="ax"/><text x="356.6" y="538.9" class="k">0</text><text x="368.92" y="538.9" class="k">100</text><text x="381.24" y="538.9" class="k">200</text><text x="393.56" y="538.9" class="k">300</text><text x="405.88" y="538.9" class="k">400</text><text x="418.2" y="538.9" class="k">500</text><text x="430.52" y="538.9" class="k">600</text><text x="442.84" y="538.9" class="k">700</text><text x="455.16" y="538.9" class="k">800</text><text x="467.48" y="538.9" class="k">900</text><text x="479.8" y="538.9" class="k">1000</text><text x="355" y="442.76" class="yk">10<tspan dy="-1.7" class="e">0</tspan></text><text x="355" y="473.35" class="yk">10<tspan dy="-1.7" class="e">-10</tspan></text><text x="355" y="503.93" class="yk">10<tspan dy="-1.7" class="e">-20</tspan></text><text x="355" y="534.52" class="yk">10<tspan dy="-1.7" class="e">-30</tspan></text><path d="M356.6 533.6v-1.2M356.6 435.2v1.2M368.92 533.6v-1.2M368.92 435.2v1.2M381.24 533.6v-1.2M381.24 435.2v1.2M393.56 533.6v-1.2M393.56 435.2v1.2M405.88 533.6v-1.2M405.88 435.2v1.2M418.2 533.6v-1.2M418.2 435.2v1.2M430.52 533.6v-1.2M430.52 435.2v1.2M442.84 533.6v-1.2M442.84 435.2v1.2M455.16 533.6v-1.2M455.16 435.2v1.2M467.48 533.6v-1.2M467.48 435.2v1.2M479.8 533.6v-1.2M479.8 435.2v1.2M356.6 440.31h1.2M479.8 440.31h-1.2M356.6 470.9h1.2M479.8 470.9h-1.2M356.6 501.48h1.2M479.8 501.48h-1.2M356.6 532.07h1.2M479.8 532.07h-1.2M356.6 439.67h0.8M479.8 439.67h-0.8M356.6 444.15h0.8M479.8 444.15h-0.8M356.6 448.62h0.8M479.8 448.62h-0.8M356.6 453.09h0.8M479.8 453.09h-0.8M356.6 457.56h0.8M479.8 457.56h-0.8M356.6 462.04h0.8M479.8 462.04h-0.8M356.6 466.51h0.8M479.8 466.51h-0.8M356.6 470.98h0.8M479.8 470.98h-0.8M356.6 475.45h0.8M479.8 475.45h-0.8M356.6 479.93h0.8M479.8 479.93h-0.8M356.6 484.4h0.8M479.8 484.4h-0.8M356.6 488.87h0.8M479.8 488.87h-0.8M356.6 493.35h0.8M479.8 493.35h-0.8M356.6 497.82h0.8M479.8 497.82h-0.8M356.6 502.29h0.8M479.8 502.29h-0.8M356.6 506.76h0.8M479.8 506.76h-0.8M356.6 511.24h0.8M479.8 511.24h-0.8M356.6 515.71h0.8M479.8 515.71h-0.8M356.6 520.18h0.8M479.8 520.18h-0.8M356.6 524.65h0.8M479.8 524.65h-0.8M356.6 529.13h0.8M479.8 529.13h-0.8" class="tk"/><text x="418.2" y="544.6" class="xl">Iteration time</text><text transform="translate(344.2 484.4) rotate(-90)" class="yl">Average optimal value</text><path d="M356.5,442.8 356.8,446.5 L356.8,446.5 357.5,443.4 L357.5,443.4 358.2,445 L358.2,445 359,442.5C359.7,442.27 360.37,441.74 361.1,441.8C367.21,442.31 373.35,443.52 379.5,444.2C389.65,445.32 399.82,446.44 410,447.2C419.52,447.91 429.07,448.16 438.6,448.6C444.33,448.86 450.06,449.16 455.8,449.3C463.7,449.49 471.6,449.5 479.5,449.6" stroke="#1ef01e" class="ln"/><path d="M356.8,441.6C357.43,443.23 357.65,445.25 358.7,446.5C359.52,447.48 361.07,448.02 362.4,448.3C365.97,449.05 369.72,449.29 373.4,449.6C379.52,450.12 385.66,450.45 391.8,450.8C397.86,451.15 403.94,451.3 410,451.7C419.54,452.33 429.06,453.21 438.6,453.9C445.76,454.41 452.94,454.74 460.1,455.3C464.87,455.67 469.74,455.83 474.4,456.7C476.2,457.03 477.8,458.17 479.5,458.9" stroke="#8c46ff" class="ln"/><path d="M356.8,440.4C358.23,441.2 359.68,441.98 361.1,442.8C363.18,444.01 365.24,445.26 367.3,446.5C369.34,447.73 371.41,448.9 373.4,450.2C375.48,451.56 377.46,453.07 379.5,454.5C381.56,455.94 383.74,457.24 385.7,458.8C387.04,459.87 388.29,461.09 389.4,462.4C390.72,463.96 391.7,465.82 393,467.4C393.73,468.29 394.87,468.85 395.5,469.8C396.5,471.29 397.09,473.07 397.9,474.7C398.72,476.34 399.54,477.98 400.4,479.6C401.87,482.35 403.46,485.04 404.9,487.8C406.59,491.04 408.27,494.28 409.8,497.6C411.54,501.38 412.92,505.34 414.7,509.1C415.38,510.54 416.55,511.74 417.2,513.2C418.49,516.11 419.49,519.17 420.5,522.2C421.66,525.7 422.63,529.27 423.7,532.8C424.13,532.93 424.55,533.2 425,533.2C443.15,533.33 461.33,533.2 479.5,533.2" stroke="#00f0ff" class="ln"/><path d="M356.8,439.7C360.3,440.93 363.66,442.82 367.3,443.4C375.33,444.68 383.64,444.57 391.8,445.3C397.88,445.84 403.92,446.77 410,447.2C419.52,447.87 429.07,448.16 438.6,448.6C444.33,448.86 450.06,449.16 455.8,449.3C463.7,449.49 471.6,449.5 479.5,449.6" stroke="#1e1eff" class="ln"/><path d="M356.8,440.4C358.23,440.8 359.63,441.37 361.1,441.6C367.2,442.57 373.37,443.19 379.5,444C385.67,444.82 391.84,445.65 398,446.5C402,447.05 406.07,447.3 410,448.2C414.84,449.3 419.61,450.86 424.3,452.5C429.14,454.19 433.88,456.2 438.6,458.2C443.41,460.23 448.19,462.36 452.9,464.6C457.72,466.89 462.5,469.27 467.2,471.8C471.37,474.04 475.4,476.53 479.5,478.9" stroke="#2a9272" class="ln"/><path d="M356.8,441C357.23,442.43 357.47,443.95 358.1,445.3C358.9,447.02 359.71,449 361.1,450.2C362.77,451.64 365.17,452.35 367.3,453.2C369.27,453.99 371.36,454.48 373.4,455.1C375.43,455.72 377.44,456.42 379.5,456.9C382.77,457.66 386.11,458.14 389.4,458.8C392.27,459.37 395.11,460.14 398,460.6C400.81,461.04 403.66,461.3 406.5,461.5C409.33,461.7 412.17,461.79 415,461.8C436.5,461.89 458,461.8 479.5,461.8" stroke="#f5cf1e" class="ln"/><path d="M356.5,435.5C356.53,436.7 356.26,437.98 356.6,439.1C357,440.42 357.52,442.28 358.7,442.8C361.09,443.85 364.42,443.74 367.3,443.8C383.18,444.11 399.1,443.88 415,443.9C427.17,443.91 439.33,443.9 451.5,443.9C451.97,444.37 452.47,444.8 452.9,445.3C453.9,446.47 454.83,447.7 455.8,448.9 L455.8,448.9 479.5,449.6" stroke="#ff1eff" class="ln"/><path d="M356.8,440.4C358.67,441.2 360.46,442.23 362.4,442.8C365.99,443.86 369.71,444.62 373.4,445.3C377.47,446.05 381.62,446.39 385.7,447.1C389.82,447.82 393.92,448.69 398,449.6C402.02,450.49 405.94,451.89 410,452.5C417.11,453.56 424.33,453.9 431.5,454.6C438.63,455.3 445.76,456.03 452.9,456.7C458.63,457.23 464.38,457.58 470.1,458.2C473.25,458.54 476.37,459.13 479.5,459.6" stroke="#ff7d0a" class="ln"/><path d="M356.5,437.9C357.23,439.13 357.77,440.53 358.7,441.6C359.74,442.8 361.13,443.71 362.4,444.7C364,445.94 365.7,447.06 367.3,448.3C369.36,449.89 371.52,451.4 373.4,453.2C375.59,455.3 377.52,457.68 379.5,460C381.19,461.98 382.79,464.05 384.4,466.1C385.66,467.71 386.82,469.41 388.1,471C389.28,472.47 390.34,474.15 391.8,475.3C393.21,476.42 394.96,477.28 396.7,477.8C399.06,478.51 401.61,478.8 404.1,479C407.71,479.3 411.37,479.12 415,479.3C418.17,479.46 421.34,479.71 424.5,480C427.24,480.25 430,480.43 432.7,480.9C434.93,481.29 437.2,481.78 439.3,482.6C441.04,483.28 442.78,484.23 444.2,485.4C445.21,486.23 445.8,487.54 446.6,488.6C447.43,489.7 448.43,490.72 449.1,491.9C449.53,492.65 449.47,493.65 449.9,494.4C450.57,495.55 451.8,496.41 452.4,497.6C453.16,499.11 453.34,500.92 454,502.5C454.71,504.22 455.6,505.87 456.5,507.5C456.97,508.34 457.77,509.02 458.1,509.9C458.57,511.18 458.58,512.64 458.9,514C459.42,516.21 459.88,518.46 460.6,520.6C460.98,521.72 461.47,522.9 462.2,523.8C462.8,524.54 464.15,524.7 464.6,525.5C465.25,526.64 464.89,528.4 465.5,529.6C465.99,530.57 467,531.34 467.9,532C468.63,532.54 469.5,533.11 470.4,533.2C473.36,533.51 476.47,533.2 479.5,533.2" stroke="#ff1414" class="ln"/><rect x="359.3" y="486.6" width="30.5" height="44" class="lg"/><path d="M360.4 489.7h11.2" stroke="#1ef01e" class="ll"/><text x="372.5" y="491" class="lt">BOA</text><path d="M360.4 494.53h11.2" stroke="#8c46ff" class="ll"/><text x="372.5" y="495.83" class="lt">GWO</text><path d="M360.4 499.35h11.2" stroke="#00f0ff" class="ll"/><text x="372.5" y="500.65" class="lt">PSO</text><path d="M360.4 504.18h11.2" stroke="#1e1eff" class="ll"/><text x="372.5" y="505.48" class="lt">SCA</text><path d="M360.4 509h11.2" stroke="#2a9272" class="ll"/><text x="372.5" y="510.3" class="lt">SSA</text><path d="M360.4 513.83h11.2" stroke="#f5cf1e" class="ll"/><text x="372.5" y="515.12" class="lt">WOA</text><path d="M360.4 518.65h11.2" stroke="#ff1eff" class="ll"/><text x="372.5" y="519.95" class="lt">GEO</text><path d="M360.4 523.48h11.2" stroke="#ff7d0a" class="ll"/><text x="372.5" y="524.77" class="lt">GEO-DLS</text><path d="M360.4 528.3h11.2" stroke="#ff1414" class="ll"/><text x="372.5" y="529.6" class="lt">IGEO</text></g>
</svg>
</body></html>
